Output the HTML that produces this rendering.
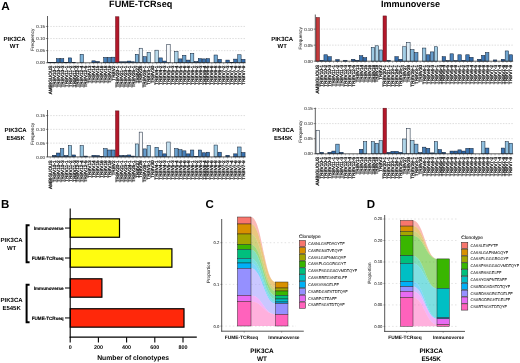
<!DOCTYPE html>
<html><head><meta charset="utf-8"><title>Figure</title>
<style>html,body{margin:0;padding:0;background:#fff;}svg{display:block;filter:blur(0.3px);}</style></head>
<body>
<svg width="520" height="363" viewBox="0 0 520 363" text-rendering="geometricPrecision">
<rect width="520" height="363" fill="#fff"/>
<g font-family="'Liberation Sans', Arial, sans-serif">
<text x="1.2" y="10.1" font-size="11.8" font-weight="bold">A</text>
<text x="140.7" y="7.4" font-size="9.1" font-weight="bold" text-anchor="middle">FUME-TCRseq</text>
<text x="410.5" y="7.4" font-size="9.1" font-weight="bold" text-anchor="middle">Immunoverse</text>
<text x="14.5" y="41.0" font-size="6" font-weight="bold" text-anchor="middle">PIK3CA</text>
<text x="14.5" y="48.0" font-size="6" font-weight="bold" text-anchor="middle">WT</text>
<text x="15.6" y="131.8" font-size="6" font-weight="bold" text-anchor="middle">PIK3CA</text>
<text x="15.6" y="139.7" font-size="6" font-weight="bold" text-anchor="middle">E545K</text>
<text x="282.2" y="40.6" font-size="6" font-weight="bold" text-anchor="middle">PIK3CA</text>
<text x="282.2" y="47.7" font-size="6" font-weight="bold" text-anchor="middle">WT</text>
<text x="283.2" y="132.0" font-size="6" font-weight="bold" text-anchor="middle">PIK3CA</text>
<text x="283.2" y="139.7" font-size="6" font-weight="bold" text-anchor="middle">E545K</text>
<line x1="45.9" y1="62.75" x2="47.5" y2="62.75" stroke="#111" stroke-width="0.5"/>
<text x="44.9" y="64.35" font-size="4.4" text-anchor="end" fill="#262626" stroke="#262626" stroke-width="0.04">0.00</text>
<line x1="47.5" y1="50.65" x2="245.5" y2="50.65" stroke="#bdbdbd" stroke-width="0.5" stroke-dasharray="1.5 1.3"/>
<line x1="45.9" y1="50.65" x2="47.5" y2="50.65" stroke="#111" stroke-width="0.5"/>
<text x="44.9" y="52.25" font-size="4.4" text-anchor="end" fill="#262626" stroke="#262626" stroke-width="0.04">0.05</text>
<line x1="47.5" y1="38.55" x2="245.5" y2="38.55" stroke="#bdbdbd" stroke-width="0.5" stroke-dasharray="1.5 1.3"/>
<line x1="45.9" y1="38.55" x2="47.5" y2="38.55" stroke="#111" stroke-width="0.5"/>
<text x="44.9" y="40.15" font-size="4.4" text-anchor="end" fill="#262626" stroke="#262626" stroke-width="0.04">0.10</text>
<line x1="47.5" y1="26.45" x2="245.5" y2="26.45" stroke="#bdbdbd" stroke-width="0.5" stroke-dasharray="1.5 1.3"/>
<line x1="45.9" y1="26.45" x2="47.5" y2="26.45" stroke="#111" stroke-width="0.5"/>
<text x="44.9" y="28.05" font-size="4.4" text-anchor="end" fill="#262626" stroke="#262626" stroke-width="0.04">0.15</text>
<rect x="48.55" y="62.51" width="3.44" height="0.24" fill="#21579b" stroke="#0c1c30" stroke-width="0.5"/>
<rect x="52.49" y="62.27" width="3.44" height="0.48" fill="#22599d" stroke="#0c1c30" stroke-width="0.5"/>
<rect x="56.43" y="58.64" width="3.44" height="4.11" fill="#3a74b2" stroke="#0c1c30" stroke-width="0.5"/>
<rect x="60.37" y="58.64" width="3.44" height="4.11" fill="#3a74b2" stroke="#0c1c30" stroke-width="0.5"/>
<rect x="64.31" y="62.27" width="3.44" height="0.48" fill="#22599d" stroke="#0c1c30" stroke-width="0.5"/>
<rect x="68.25" y="57.91" width="3.44" height="4.84" fill="#3f79b6" stroke="#0c1c30" stroke-width="0.5"/>
<rect x="72.19" y="62.27" width="3.44" height="0.48" fill="#22599d" stroke="#0c1c30" stroke-width="0.5"/>
<rect x="80.07" y="54.28" width="3.44" height="8.47" fill="#7db2d8" stroke="#0c1c30" stroke-width="0.5"/>
<rect x="91.89" y="60.81" width="3.44" height="1.94" fill="#2c63a5" stroke="#0c1c30" stroke-width="0.5"/>
<rect x="95.83" y="61.54" width="3.44" height="1.21" fill="#275ea1" stroke="#0c1c30" stroke-width="0.5"/>
<rect x="103.71" y="57.43" width="3.44" height="5.32" fill="#4881ba" stroke="#0c1c30" stroke-width="0.5"/>
<rect x="107.65" y="57.43" width="3.44" height="5.32" fill="#4881ba" stroke="#0c1c30" stroke-width="0.5"/>
<rect x="111.59" y="57.18" width="3.44" height="5.57" fill="#4c84bc" stroke="#0c1c30" stroke-width="0.5"/>
<rect x="115.53" y="16.77" width="3.44" height="45.98" fill="#b2182b" stroke="#5a0c15" stroke-width="0.5"/>
<rect x="119.47" y="61.78" width="3.44" height="0.97" fill="#255ca0" stroke="#0c1c30" stroke-width="0.5"/>
<rect x="123.41" y="61.78" width="3.44" height="0.97" fill="#255ca0" stroke="#0c1c30" stroke-width="0.5"/>
<rect x="127.35" y="61.06" width="3.44" height="1.69" fill="#2a62a4" stroke="#0c1c30" stroke-width="0.5"/>
<rect x="131.29" y="61.78" width="3.44" height="0.97" fill="#255ca0" stroke="#0c1c30" stroke-width="0.5"/>
<rect x="135.23" y="54.28" width="3.44" height="8.47" fill="#7db2d8" stroke="#0c1c30" stroke-width="0.5"/>
<rect x="139.17" y="48.23" width="3.44" height="14.52" fill="#e0eef7" stroke="#0c1c30" stroke-width="0.5"/>
<rect x="143.11" y="56.70" width="3.44" height="6.05" fill="#558cc0" stroke="#0c1c30" stroke-width="0.5"/>
<rect x="147.05" y="52.34" width="3.44" height="10.41" fill="#9dcae3" stroke="#0c1c30" stroke-width="0.5"/>
<rect x="154.93" y="50.17" width="3.44" height="12.58" fill="#b9daeb" stroke="#0c1c30" stroke-width="0.5"/>
<rect x="158.87" y="57.91" width="3.44" height="4.84" fill="#3f79b6" stroke="#0c1c30" stroke-width="0.5"/>
<rect x="162.81" y="61.06" width="3.44" height="1.69" fill="#2a62a4" stroke="#0c1c30" stroke-width="0.5"/>
<rect x="166.75" y="44.60" width="3.44" height="18.15" fill="#f6f8fa" stroke="#0c1c30" stroke-width="0.5"/>
<rect x="174.63" y="51.38" width="3.44" height="11.37" fill="#a9d1e7" stroke="#0c1c30" stroke-width="0.5"/>
<rect x="178.57" y="58.88" width="3.44" height="3.87" fill="#3972b0" stroke="#0c1c30" stroke-width="0.5"/>
<rect x="182.51" y="55.25" width="3.44" height="7.50" fill="#6da3ce" stroke="#0c1c30" stroke-width="0.5"/>
<rect x="186.45" y="60.09" width="3.44" height="2.66" fill="#3169a9" stroke="#0c1c30" stroke-width="0.5"/>
<rect x="190.39" y="53.31" width="3.44" height="9.44" fill="#8dbede" stroke="#0c1c30" stroke-width="0.5"/>
<rect x="194.33" y="61.54" width="3.44" height="1.21" fill="#275ea1" stroke="#0c1c30" stroke-width="0.5"/>
<rect x="198.27" y="58.64" width="3.44" height="4.11" fill="#3a74b2" stroke="#0c1c30" stroke-width="0.5"/>
<rect x="202.21" y="58.88" width="3.44" height="3.87" fill="#3972b0" stroke="#0c1c30" stroke-width="0.5"/>
<rect x="206.15" y="58.64" width="3.44" height="4.11" fill="#3a74b2" stroke="#0c1c30" stroke-width="0.5"/>
<rect x="214.03" y="55.01" width="3.44" height="7.74" fill="#71a7d1" stroke="#0c1c30" stroke-width="0.5"/>
<rect x="217.97" y="59.36" width="3.44" height="3.39" fill="#356eae" stroke="#0c1c30" stroke-width="0.5"/>
<rect x="225.85" y="60.09" width="3.44" height="2.66" fill="#3169a9" stroke="#0c1c30" stroke-width="0.5"/>
<rect x="229.79" y="62.51" width="3.44" height="0.24" fill="#21579b" stroke="#0c1c30" stroke-width="0.5"/>
<rect x="233.73" y="59.12" width="3.44" height="3.63" fill="#3770af" stroke="#0c1c30" stroke-width="0.5"/>
<rect x="237.67" y="54.76" width="3.44" height="7.99" fill="#75aad3" stroke="#0c1c30" stroke-width="0.5"/>
<rect x="241.61" y="59.36" width="3.44" height="3.39" fill="#356eae" stroke="#0c1c30" stroke-width="0.5"/>
<line x1="47.5" y1="16" x2="47.5" y2="63.05" stroke="#2a2a2a" stroke-width="0.75"/>
<line x1="47.5" y1="62.75" x2="245.5" y2="62.75" stroke="#2a2a2a" stroke-width="0.75"/>
<line x1="50.27" y1="62.75" x2="50.27" y2="64.35" stroke="#444" stroke-width="0.4"/>
<text transform="translate(51.87,65.6) rotate(-90)" font-size="4.7" text-anchor="end" fill="#222" stroke="#222" stroke-width="0.3">AMBIGUOUS</text>
<line x1="54.21" y1="62.75" x2="54.21" y2="64.35" stroke="#444" stroke-width="0.4"/>
<text transform="translate(55.81,65.6) rotate(-90)" font-size="4.7" text-anchor="end" fill="#222" stroke="#222" stroke-width="0.3">TRBV10-1</text>
<line x1="58.15" y1="62.75" x2="58.15" y2="64.35" stroke="#444" stroke-width="0.4"/>
<text transform="translate(59.75,65.6) rotate(-90)" font-size="4.7" text-anchor="end" fill="#222" stroke="#222" stroke-width="0.3">TRBV10-2</text>
<line x1="62.09" y1="62.75" x2="62.09" y2="64.35" stroke="#444" stroke-width="0.4"/>
<text transform="translate(63.69,65.6) rotate(-90)" font-size="4.7" text-anchor="end" fill="#222" stroke="#222" stroke-width="0.3">TRBV10-3</text>
<line x1="66.03" y1="62.75" x2="66.03" y2="64.35" stroke="#444" stroke-width="0.4"/>
<text transform="translate(67.63,65.6) rotate(-90)" font-size="4.7" text-anchor="end" fill="#222" stroke="#222" stroke-width="0.3">TRBV11-1</text>
<line x1="69.97" y1="62.75" x2="69.97" y2="64.35" stroke="#444" stroke-width="0.4"/>
<text transform="translate(71.57,65.6) rotate(-90)" font-size="4.7" text-anchor="end" fill="#222" stroke="#222" stroke-width="0.3">TRBV11-2</text>
<line x1="73.91" y1="62.75" x2="73.91" y2="64.35" stroke="#444" stroke-width="0.4"/>
<text transform="translate(75.51,65.6) rotate(-90)" font-size="4.7" text-anchor="end" fill="#222" stroke="#222" stroke-width="0.3">TRBV11-3</text>
<line x1="77.85" y1="62.75" x2="77.85" y2="64.35" stroke="#444" stroke-width="0.4"/>
<text transform="translate(79.45,65.6) rotate(-90)" font-size="4.7" text-anchor="end" fill="#222" stroke="#222" stroke-width="0.3">TRBV12-3</text>
<line x1="81.79" y1="62.75" x2="81.79" y2="64.35" stroke="#444" stroke-width="0.4"/>
<text transform="translate(83.39,65.6) rotate(-90)" font-size="4.7" text-anchor="end" fill="#222" stroke="#222" stroke-width="0.3">TRBV12-4</text>
<line x1="85.73" y1="62.75" x2="85.73" y2="64.35" stroke="#444" stroke-width="0.4"/>
<text transform="translate(87.33,65.6) rotate(-90)" font-size="4.7" text-anchor="end" fill="#222" stroke="#222" stroke-width="0.3">TRBV12-5</text>
<line x1="89.67" y1="62.75" x2="89.67" y2="64.35" stroke="#444" stroke-width="0.4"/>
<text transform="translate(91.27,65.6) rotate(-90)" font-size="4.7" text-anchor="end" fill="#222" stroke="#222" stroke-width="0.3">TRBV13</text>
<line x1="93.61" y1="62.75" x2="93.61" y2="64.35" stroke="#444" stroke-width="0.4"/>
<text transform="translate(95.21,65.6) rotate(-90)" font-size="4.7" text-anchor="end" fill="#222" stroke="#222" stroke-width="0.3">TRBV14</text>
<line x1="97.55" y1="62.75" x2="97.55" y2="64.35" stroke="#444" stroke-width="0.4"/>
<text transform="translate(99.15,65.6) rotate(-90)" font-size="4.7" text-anchor="end" fill="#222" stroke="#222" stroke-width="0.3">TRBV15</text>
<line x1="101.49" y1="62.75" x2="101.49" y2="64.35" stroke="#444" stroke-width="0.4"/>
<text transform="translate(103.09,65.6) rotate(-90)" font-size="4.7" text-anchor="end" fill="#222" stroke="#222" stroke-width="0.3">TRBV16</text>
<line x1="105.43" y1="62.75" x2="105.43" y2="64.35" stroke="#444" stroke-width="0.4"/>
<text transform="translate(107.03,65.6) rotate(-90)" font-size="4.7" text-anchor="end" fill="#222" stroke="#222" stroke-width="0.3">TRBV18</text>
<line x1="109.37" y1="62.75" x2="109.37" y2="64.35" stroke="#444" stroke-width="0.4"/>
<text transform="translate(110.97,65.6) rotate(-90)" font-size="4.7" text-anchor="end" fill="#222" stroke="#222" stroke-width="0.3">TRBV19</text>
<line x1="113.31" y1="62.75" x2="113.31" y2="64.35" stroke="#444" stroke-width="0.4"/>
<text transform="translate(114.91,65.6) rotate(-90)" font-size="4.7" text-anchor="end" fill="#222" stroke="#222" stroke-width="0.3">TRBV2</text>
<line x1="117.25" y1="62.75" x2="117.25" y2="64.35" stroke="#444" stroke-width="0.4"/>
<text transform="translate(118.85,65.6) rotate(-90)" font-size="4.7" text-anchor="end" fill="#222" stroke="#222" stroke-width="0.3">TRBV20-1</text>
<line x1="121.19" y1="62.75" x2="121.19" y2="64.35" stroke="#444" stroke-width="0.4"/>
<text transform="translate(122.79,65.6) rotate(-90)" font-size="4.7" text-anchor="end" fill="#222" stroke="#222" stroke-width="0.3">TRBV21-1</text>
<line x1="125.13" y1="62.75" x2="125.13" y2="64.35" stroke="#444" stroke-width="0.4"/>
<text transform="translate(126.73,65.6) rotate(-90)" font-size="4.7" text-anchor="end" fill="#222" stroke="#222" stroke-width="0.3">TRBV23-1</text>
<line x1="129.07" y1="62.75" x2="129.07" y2="64.35" stroke="#444" stroke-width="0.4"/>
<text transform="translate(130.67,65.6) rotate(-90)" font-size="4.7" text-anchor="end" fill="#222" stroke="#222" stroke-width="0.3">TRBV24-1</text>
<line x1="133.01" y1="62.75" x2="133.01" y2="64.35" stroke="#444" stroke-width="0.4"/>
<text transform="translate(134.61,65.6) rotate(-90)" font-size="4.7" text-anchor="end" fill="#222" stroke="#222" stroke-width="0.3">TRBV25-1</text>
<line x1="136.95" y1="62.75" x2="136.95" y2="64.35" stroke="#444" stroke-width="0.4"/>
<text transform="translate(138.55,65.6) rotate(-90)" font-size="4.7" text-anchor="end" fill="#222" stroke="#222" stroke-width="0.3">TRBV27</text>
<line x1="140.89" y1="62.75" x2="140.89" y2="64.35" stroke="#444" stroke-width="0.4"/>
<text transform="translate(142.49,65.6) rotate(-90)" font-size="4.7" text-anchor="end" fill="#222" stroke="#222" stroke-width="0.3">TRBV28</text>
<line x1="144.83" y1="62.75" x2="144.83" y2="64.35" stroke="#444" stroke-width="0.4"/>
<text transform="translate(146.43,65.6) rotate(-90)" font-size="4.7" text-anchor="end" fill="#222" stroke="#222" stroke-width="0.3">TRBV29-1</text>
<line x1="148.77" y1="62.75" x2="148.77" y2="64.35" stroke="#444" stroke-width="0.4"/>
<text transform="translate(150.37,65.6) rotate(-90)" font-size="4.7" text-anchor="end" fill="#222" stroke="#222" stroke-width="0.3">TRBV3-1</text>
<line x1="152.71" y1="62.75" x2="152.71" y2="64.35" stroke="#444" stroke-width="0.4"/>
<text transform="translate(154.31,65.6) rotate(-90)" font-size="4.7" text-anchor="end" fill="#222" stroke="#222" stroke-width="0.3">TRBV30</text>
<line x1="156.65" y1="62.75" x2="156.65" y2="64.35" stroke="#444" stroke-width="0.4"/>
<text transform="translate(158.25,65.6) rotate(-90)" font-size="4.7" text-anchor="end" fill="#222" stroke="#222" stroke-width="0.3">TRBV4-1</text>
<line x1="160.59" y1="62.75" x2="160.59" y2="64.35" stroke="#444" stroke-width="0.4"/>
<text transform="translate(162.19,65.6) rotate(-90)" font-size="4.7" text-anchor="end" fill="#222" stroke="#222" stroke-width="0.3">TRBV4-2</text>
<line x1="164.53" y1="62.75" x2="164.53" y2="64.35" stroke="#444" stroke-width="0.4"/>
<text transform="translate(166.13,65.6) rotate(-90)" font-size="4.7" text-anchor="end" fill="#222" stroke="#222" stroke-width="0.3">TRBV4-3</text>
<line x1="168.47" y1="62.75" x2="168.47" y2="64.35" stroke="#444" stroke-width="0.4"/>
<text transform="translate(170.07,65.6) rotate(-90)" font-size="4.7" text-anchor="end" fill="#222" stroke="#222" stroke-width="0.3">TRBV5-1</text>
<line x1="172.41" y1="62.75" x2="172.41" y2="64.35" stroke="#444" stroke-width="0.4"/>
<text transform="translate(174.01,65.6) rotate(-90)" font-size="4.7" text-anchor="end" fill="#222" stroke="#222" stroke-width="0.3">TRBV5-3</text>
<line x1="176.35" y1="62.75" x2="176.35" y2="64.35" stroke="#444" stroke-width="0.4"/>
<text transform="translate(177.95,65.6) rotate(-90)" font-size="4.7" text-anchor="end" fill="#222" stroke="#222" stroke-width="0.3">TRBV5-4</text>
<line x1="180.29" y1="62.75" x2="180.29" y2="64.35" stroke="#444" stroke-width="0.4"/>
<text transform="translate(181.89,65.6) rotate(-90)" font-size="4.7" text-anchor="end" fill="#222" stroke="#222" stroke-width="0.3">TRBV5-5</text>
<line x1="184.23" y1="62.75" x2="184.23" y2="64.35" stroke="#444" stroke-width="0.4"/>
<text transform="translate(185.83,65.6) rotate(-90)" font-size="4.7" text-anchor="end" fill="#222" stroke="#222" stroke-width="0.3">TRBV5-6</text>
<line x1="188.17" y1="62.75" x2="188.17" y2="64.35" stroke="#444" stroke-width="0.4"/>
<text transform="translate(189.77,65.6) rotate(-90)" font-size="4.7" text-anchor="end" fill="#222" stroke="#222" stroke-width="0.3">TRBV5-8</text>
<line x1="192.11" y1="62.75" x2="192.11" y2="64.35" stroke="#444" stroke-width="0.4"/>
<text transform="translate(193.71,65.6) rotate(-90)" font-size="4.7" text-anchor="end" fill="#222" stroke="#222" stroke-width="0.3">TRBV6-1</text>
<line x1="196.05" y1="62.75" x2="196.05" y2="64.35" stroke="#444" stroke-width="0.4"/>
<text transform="translate(197.65,65.6) rotate(-90)" font-size="4.7" text-anchor="end" fill="#222" stroke="#222" stroke-width="0.3">TRBV6-2</text>
<line x1="199.99" y1="62.75" x2="199.99" y2="64.35" stroke="#444" stroke-width="0.4"/>
<text transform="translate(201.59,65.6) rotate(-90)" font-size="4.7" text-anchor="end" fill="#222" stroke="#222" stroke-width="0.3">TRBV6-3</text>
<line x1="203.93" y1="62.75" x2="203.93" y2="64.35" stroke="#444" stroke-width="0.4"/>
<text transform="translate(205.53,65.6) rotate(-90)" font-size="4.7" text-anchor="end" fill="#222" stroke="#222" stroke-width="0.3">TRBV6-4</text>
<line x1="207.87" y1="62.75" x2="207.87" y2="64.35" stroke="#444" stroke-width="0.4"/>
<text transform="translate(209.47,65.6) rotate(-90)" font-size="4.7" text-anchor="end" fill="#222" stroke="#222" stroke-width="0.3">TRBV6-5</text>
<line x1="211.81" y1="62.75" x2="211.81" y2="64.35" stroke="#444" stroke-width="0.4"/>
<text transform="translate(213.41,65.6) rotate(-90)" font-size="4.7" text-anchor="end" fill="#222" stroke="#222" stroke-width="0.3">TRBV6-6</text>
<line x1="215.75" y1="62.75" x2="215.75" y2="64.35" stroke="#444" stroke-width="0.4"/>
<text transform="translate(217.35,65.6) rotate(-90)" font-size="4.7" text-anchor="end" fill="#222" stroke="#222" stroke-width="0.3">TRBV6-8</text>
<line x1="219.69" y1="62.75" x2="219.69" y2="64.35" stroke="#444" stroke-width="0.4"/>
<text transform="translate(221.29,65.6) rotate(-90)" font-size="4.7" text-anchor="end" fill="#222" stroke="#222" stroke-width="0.3">TRBV6-9</text>
<line x1="223.63" y1="62.75" x2="223.63" y2="64.35" stroke="#444" stroke-width="0.4"/>
<text transform="translate(225.23,65.6) rotate(-90)" font-size="4.7" text-anchor="end" fill="#222" stroke="#222" stroke-width="0.3">TRBV7-2</text>
<line x1="227.57" y1="62.75" x2="227.57" y2="64.35" stroke="#444" stroke-width="0.4"/>
<text transform="translate(229.17,65.6) rotate(-90)" font-size="4.7" text-anchor="end" fill="#222" stroke="#222" stroke-width="0.3">TRBV7-3</text>
<line x1="231.51" y1="62.75" x2="231.51" y2="64.35" stroke="#444" stroke-width="0.4"/>
<text transform="translate(233.11,65.6) rotate(-90)" font-size="4.7" text-anchor="end" fill="#222" stroke="#222" stroke-width="0.3">TRBV7-4</text>
<line x1="235.45" y1="62.75" x2="235.45" y2="64.35" stroke="#444" stroke-width="0.4"/>
<text transform="translate(237.05,65.6) rotate(-90)" font-size="4.7" text-anchor="end" fill="#222" stroke="#222" stroke-width="0.3">TRBV7-6</text>
<line x1="239.39" y1="62.75" x2="239.39" y2="64.35" stroke="#444" stroke-width="0.4"/>
<text transform="translate(240.99,65.6) rotate(-90)" font-size="4.7" text-anchor="end" fill="#222" stroke="#222" stroke-width="0.3">TRBV7-8</text>
<line x1="243.33" y1="62.75" x2="243.33" y2="64.35" stroke="#444" stroke-width="0.4"/>
<text transform="translate(244.93,65.6) rotate(-90)" font-size="4.7" text-anchor="end" fill="#222" stroke="#222" stroke-width="0.3">TRBV7-9</text>
<text transform="translate(33.9,39.8) rotate(-90)" font-size="4.7" text-anchor="middle" fill="#262626" stroke="#262626" stroke-width="0.04">Frequency</text>
<line x1="45.9" y1="156.90" x2="47.5" y2="156.90" stroke="#111" stroke-width="0.5"/>
<text x="44.9" y="158.50" font-size="4.4" text-anchor="end" fill="#262626" stroke="#262626" stroke-width="0.04">0.00</text>
<line x1="47.5" y1="143.12" x2="245.5" y2="143.12" stroke="#bdbdbd" stroke-width="0.5" stroke-dasharray="1.5 1.3"/>
<line x1="45.9" y1="143.12" x2="47.5" y2="143.12" stroke="#111" stroke-width="0.5"/>
<text x="44.9" y="144.72" font-size="4.4" text-anchor="end" fill="#262626" stroke="#262626" stroke-width="0.04">0.05</text>
<line x1="47.5" y1="129.35" x2="245.5" y2="129.35" stroke="#bdbdbd" stroke-width="0.5" stroke-dasharray="1.5 1.3"/>
<line x1="45.9" y1="129.35" x2="47.5" y2="129.35" stroke="#111" stroke-width="0.5"/>
<text x="44.9" y="130.95" font-size="4.4" text-anchor="end" fill="#262626" stroke="#262626" stroke-width="0.04">0.10</text>
<line x1="47.5" y1="115.58" x2="245.5" y2="115.58" stroke="#bdbdbd" stroke-width="0.5" stroke-dasharray="1.5 1.3"/>
<line x1="45.9" y1="115.58" x2="47.5" y2="115.58" stroke="#111" stroke-width="0.5"/>
<text x="44.9" y="117.18" font-size="4.4" text-anchor="end" fill="#262626" stroke="#262626" stroke-width="0.04">0.15</text>
<rect x="52.49" y="155.25" width="3.44" height="1.65" fill="#2960a2" stroke="#0c1c30" stroke-width="0.5"/>
<rect x="56.43" y="153.04" width="3.44" height="3.86" fill="#356eae" stroke="#0c1c30" stroke-width="0.5"/>
<rect x="60.37" y="148.63" width="3.44" height="8.27" fill="#699fcc" stroke="#0c1c30" stroke-width="0.5"/>
<rect x="64.31" y="155.52" width="3.44" height="1.38" fill="#275ea1" stroke="#0c1c30" stroke-width="0.5"/>
<rect x="68.25" y="145.60" width="3.44" height="11.30" fill="#95c4e0" stroke="#0c1c30" stroke-width="0.5"/>
<rect x="72.19" y="154.97" width="3.44" height="1.93" fill="#2a62a4" stroke="#0c1c30" stroke-width="0.5"/>
<rect x="80.07" y="145.60" width="3.44" height="11.30" fill="#95c4e0" stroke="#0c1c30" stroke-width="0.5"/>
<rect x="84.01" y="156.07" width="3.44" height="0.83" fill="#245a9e" stroke="#0c1c30" stroke-width="0.5"/>
<rect x="91.89" y="155.25" width="3.44" height="1.65" fill="#2960a2" stroke="#0c1c30" stroke-width="0.5"/>
<rect x="95.83" y="155.52" width="3.44" height="1.38" fill="#275ea1" stroke="#0c1c30" stroke-width="0.5"/>
<rect x="99.77" y="156.35" width="3.44" height="0.55" fill="#22599d" stroke="#0c1c30" stroke-width="0.5"/>
<rect x="103.71" y="148.63" width="3.44" height="8.27" fill="#699fcc" stroke="#0c1c30" stroke-width="0.5"/>
<rect x="107.65" y="150.01" width="3.44" height="6.89" fill="#558cc0" stroke="#0c1c30" stroke-width="0.5"/>
<rect x="111.59" y="150.01" width="3.44" height="6.89" fill="#558cc0" stroke="#0c1c30" stroke-width="0.5"/>
<rect x="115.53" y="110.89" width="3.44" height="46.01" fill="#b2182b" stroke="#5a0c15" stroke-width="0.5"/>
<rect x="119.47" y="155.52" width="3.44" height="1.38" fill="#275ea1" stroke="#0c1c30" stroke-width="0.5"/>
<rect x="123.41" y="155.52" width="3.44" height="1.38" fill="#275ea1" stroke="#0c1c30" stroke-width="0.5"/>
<rect x="127.35" y="154.97" width="3.44" height="1.93" fill="#2a62a4" stroke="#0c1c30" stroke-width="0.5"/>
<rect x="131.29" y="156.07" width="3.44" height="0.83" fill="#245a9e" stroke="#0c1c30" stroke-width="0.5"/>
<rect x="135.23" y="143.95" width="3.44" height="12.95" fill="#a9d1e7" stroke="#0c1c30" stroke-width="0.5"/>
<rect x="139.17" y="132.11" width="3.44" height="24.79" fill="#f7f8f9" stroke="#0c1c30" stroke-width="0.5"/>
<rect x="143.11" y="148.91" width="3.44" height="7.99" fill="#659bca" stroke="#0c1c30" stroke-width="0.5"/>
<rect x="147.05" y="145.60" width="3.44" height="11.30" fill="#95c4e0" stroke="#0c1c30" stroke-width="0.5"/>
<rect x="154.93" y="147.26" width="3.44" height="9.64" fill="#7db2d8" stroke="#0c1c30" stroke-width="0.5"/>
<rect x="158.87" y="150.29" width="3.44" height="6.61" fill="#5188be" stroke="#0c1c30" stroke-width="0.5"/>
<rect x="162.81" y="153.87" width="3.44" height="3.03" fill="#3169a9" stroke="#0c1c30" stroke-width="0.5"/>
<rect x="166.75" y="142.02" width="3.44" height="14.88" fill="#c3dfee" stroke="#0c1c30" stroke-width="0.5"/>
<rect x="174.63" y="148.63" width="3.44" height="8.27" fill="#699fcc" stroke="#0c1c30" stroke-width="0.5"/>
<rect x="178.57" y="149.74" width="3.44" height="7.16" fill="#5990c2" stroke="#0c1c30" stroke-width="0.5"/>
<rect x="182.51" y="150.84" width="3.44" height="6.06" fill="#4881ba" stroke="#0c1c30" stroke-width="0.5"/>
<rect x="186.45" y="153.87" width="3.44" height="3.03" fill="#3169a9" stroke="#0c1c30" stroke-width="0.5"/>
<rect x="190.39" y="150.01" width="3.44" height="6.89" fill="#558cc0" stroke="#0c1c30" stroke-width="0.5"/>
<rect x="194.33" y="156.35" width="3.44" height="0.55" fill="#22599d" stroke="#0c1c30" stroke-width="0.5"/>
<rect x="198.27" y="150.01" width="3.44" height="6.89" fill="#558cc0" stroke="#0c1c30" stroke-width="0.5"/>
<rect x="202.21" y="152.77" width="3.44" height="4.13" fill="#3770af" stroke="#0c1c30" stroke-width="0.5"/>
<rect x="206.15" y="152.22" width="3.44" height="4.68" fill="#3a74b2" stroke="#0c1c30" stroke-width="0.5"/>
<rect x="214.03" y="145.05" width="3.44" height="11.85" fill="#9dcae3" stroke="#0c1c30" stroke-width="0.5"/>
<rect x="217.97" y="152.22" width="3.44" height="4.68" fill="#3a74b2" stroke="#0c1c30" stroke-width="0.5"/>
<rect x="225.85" y="155.25" width="3.44" height="1.65" fill="#2960a2" stroke="#0c1c30" stroke-width="0.5"/>
<rect x="233.73" y="153.87" width="3.44" height="3.03" fill="#3169a9" stroke="#0c1c30" stroke-width="0.5"/>
<rect x="237.67" y="146.98" width="3.44" height="9.92" fill="#81b5d9" stroke="#0c1c30" stroke-width="0.5"/>
<rect x="241.61" y="152.49" width="3.44" height="4.41" fill="#3972b0" stroke="#0c1c30" stroke-width="0.5"/>
<line x1="47.5" y1="110" x2="47.5" y2="157.20000000000002" stroke="#2a2a2a" stroke-width="0.75"/>
<line x1="47.5" y1="156.9" x2="245.5" y2="156.9" stroke="#2a2a2a" stroke-width="0.75"/>
<line x1="50.27" y1="156.9" x2="50.27" y2="158.5" stroke="#444" stroke-width="0.4"/>
<text transform="translate(51.87,160.4) rotate(-90)" font-size="4.7" text-anchor="end" fill="#222" stroke="#222" stroke-width="0.3">AMBIGUOUS</text>
<line x1="54.21" y1="156.9" x2="54.21" y2="158.5" stroke="#444" stroke-width="0.4"/>
<text transform="translate(55.81,160.4) rotate(-90)" font-size="4.7" text-anchor="end" fill="#222" stroke="#222" stroke-width="0.3">TRBV10-1</text>
<line x1="58.15" y1="156.9" x2="58.15" y2="158.5" stroke="#444" stroke-width="0.4"/>
<text transform="translate(59.75,160.4) rotate(-90)" font-size="4.7" text-anchor="end" fill="#222" stroke="#222" stroke-width="0.3">TRBV10-2</text>
<line x1="62.09" y1="156.9" x2="62.09" y2="158.5" stroke="#444" stroke-width="0.4"/>
<text transform="translate(63.69,160.4) rotate(-90)" font-size="4.7" text-anchor="end" fill="#222" stroke="#222" stroke-width="0.3">TRBV10-3</text>
<line x1="66.03" y1="156.9" x2="66.03" y2="158.5" stroke="#444" stroke-width="0.4"/>
<text transform="translate(67.63,160.4) rotate(-90)" font-size="4.7" text-anchor="end" fill="#222" stroke="#222" stroke-width="0.3">TRBV11-1</text>
<line x1="69.97" y1="156.9" x2="69.97" y2="158.5" stroke="#444" stroke-width="0.4"/>
<text transform="translate(71.57,160.4) rotate(-90)" font-size="4.7" text-anchor="end" fill="#222" stroke="#222" stroke-width="0.3">TRBV11-2</text>
<line x1="73.91" y1="156.9" x2="73.91" y2="158.5" stroke="#444" stroke-width="0.4"/>
<text transform="translate(75.51,160.4) rotate(-90)" font-size="4.7" text-anchor="end" fill="#222" stroke="#222" stroke-width="0.3">TRBV11-3</text>
<line x1="77.85" y1="156.9" x2="77.85" y2="158.5" stroke="#444" stroke-width="0.4"/>
<text transform="translate(79.45,160.4) rotate(-90)" font-size="4.7" text-anchor="end" fill="#222" stroke="#222" stroke-width="0.3">TRBV12-3</text>
<line x1="81.79" y1="156.9" x2="81.79" y2="158.5" stroke="#444" stroke-width="0.4"/>
<text transform="translate(83.39,160.4) rotate(-90)" font-size="4.7" text-anchor="end" fill="#222" stroke="#222" stroke-width="0.3">TRBV12-4</text>
<line x1="85.73" y1="156.9" x2="85.73" y2="158.5" stroke="#444" stroke-width="0.4"/>
<text transform="translate(87.33,160.4) rotate(-90)" font-size="4.7" text-anchor="end" fill="#222" stroke="#222" stroke-width="0.3">TRBV12-5</text>
<line x1="89.67" y1="156.9" x2="89.67" y2="158.5" stroke="#444" stroke-width="0.4"/>
<text transform="translate(91.27,160.4) rotate(-90)" font-size="4.7" text-anchor="end" fill="#222" stroke="#222" stroke-width="0.3">TRBV13</text>
<line x1="93.61" y1="156.9" x2="93.61" y2="158.5" stroke="#444" stroke-width="0.4"/>
<text transform="translate(95.21,160.4) rotate(-90)" font-size="4.7" text-anchor="end" fill="#222" stroke="#222" stroke-width="0.3">TRBV14</text>
<line x1="97.55" y1="156.9" x2="97.55" y2="158.5" stroke="#444" stroke-width="0.4"/>
<text transform="translate(99.15,160.4) rotate(-90)" font-size="4.7" text-anchor="end" fill="#222" stroke="#222" stroke-width="0.3">TRBV15</text>
<line x1="101.49" y1="156.9" x2="101.49" y2="158.5" stroke="#444" stroke-width="0.4"/>
<text transform="translate(103.09,160.4) rotate(-90)" font-size="4.7" text-anchor="end" fill="#222" stroke="#222" stroke-width="0.3">TRBV16</text>
<line x1="105.43" y1="156.9" x2="105.43" y2="158.5" stroke="#444" stroke-width="0.4"/>
<text transform="translate(107.03,160.4) rotate(-90)" font-size="4.7" text-anchor="end" fill="#222" stroke="#222" stroke-width="0.3">TRBV18</text>
<line x1="109.37" y1="156.9" x2="109.37" y2="158.5" stroke="#444" stroke-width="0.4"/>
<text transform="translate(110.97,160.4) rotate(-90)" font-size="4.7" text-anchor="end" fill="#222" stroke="#222" stroke-width="0.3">TRBV19</text>
<line x1="113.31" y1="156.9" x2="113.31" y2="158.5" stroke="#444" stroke-width="0.4"/>
<text transform="translate(114.91,160.4) rotate(-90)" font-size="4.7" text-anchor="end" fill="#222" stroke="#222" stroke-width="0.3">TRBV2</text>
<line x1="117.25" y1="156.9" x2="117.25" y2="158.5" stroke="#444" stroke-width="0.4"/>
<text transform="translate(118.85,160.4) rotate(-90)" font-size="4.7" text-anchor="end" fill="#222" stroke="#222" stroke-width="0.3">TRBV20-1</text>
<line x1="121.19" y1="156.9" x2="121.19" y2="158.5" stroke="#444" stroke-width="0.4"/>
<text transform="translate(122.79,160.4) rotate(-90)" font-size="4.7" text-anchor="end" fill="#222" stroke="#222" stroke-width="0.3">TRBV21-1</text>
<line x1="125.13" y1="156.9" x2="125.13" y2="158.5" stroke="#444" stroke-width="0.4"/>
<text transform="translate(126.73,160.4) rotate(-90)" font-size="4.7" text-anchor="end" fill="#222" stroke="#222" stroke-width="0.3">TRBV23-1</text>
<line x1="129.07" y1="156.9" x2="129.07" y2="158.5" stroke="#444" stroke-width="0.4"/>
<text transform="translate(130.67,160.4) rotate(-90)" font-size="4.7" text-anchor="end" fill="#222" stroke="#222" stroke-width="0.3">TRBV24-1</text>
<line x1="133.01" y1="156.9" x2="133.01" y2="158.5" stroke="#444" stroke-width="0.4"/>
<text transform="translate(134.61,160.4) rotate(-90)" font-size="4.7" text-anchor="end" fill="#222" stroke="#222" stroke-width="0.3">TRBV25-1</text>
<line x1="136.95" y1="156.9" x2="136.95" y2="158.5" stroke="#444" stroke-width="0.4"/>
<text transform="translate(138.55,160.4) rotate(-90)" font-size="4.7" text-anchor="end" fill="#222" stroke="#222" stroke-width="0.3">TRBV27</text>
<line x1="140.89" y1="156.9" x2="140.89" y2="158.5" stroke="#444" stroke-width="0.4"/>
<text transform="translate(142.49,160.4) rotate(-90)" font-size="4.7" text-anchor="end" fill="#222" stroke="#222" stroke-width="0.3">TRBV28</text>
<line x1="144.83" y1="156.9" x2="144.83" y2="158.5" stroke="#444" stroke-width="0.4"/>
<text transform="translate(146.43,160.4) rotate(-90)" font-size="4.7" text-anchor="end" fill="#222" stroke="#222" stroke-width="0.3">TRBV29-1</text>
<line x1="148.77" y1="156.9" x2="148.77" y2="158.5" stroke="#444" stroke-width="0.4"/>
<text transform="translate(150.37,160.4) rotate(-90)" font-size="4.7" text-anchor="end" fill="#222" stroke="#222" stroke-width="0.3">TRBV3-1</text>
<line x1="152.71" y1="156.9" x2="152.71" y2="158.5" stroke="#444" stroke-width="0.4"/>
<text transform="translate(154.31,160.4) rotate(-90)" font-size="4.7" text-anchor="end" fill="#222" stroke="#222" stroke-width="0.3">TRBV30</text>
<line x1="156.65" y1="156.9" x2="156.65" y2="158.5" stroke="#444" stroke-width="0.4"/>
<text transform="translate(158.25,160.4) rotate(-90)" font-size="4.7" text-anchor="end" fill="#222" stroke="#222" stroke-width="0.3">TRBV4-1</text>
<line x1="160.59" y1="156.9" x2="160.59" y2="158.5" stroke="#444" stroke-width="0.4"/>
<text transform="translate(162.19,160.4) rotate(-90)" font-size="4.7" text-anchor="end" fill="#222" stroke="#222" stroke-width="0.3">TRBV4-2</text>
<line x1="164.53" y1="156.9" x2="164.53" y2="158.5" stroke="#444" stroke-width="0.4"/>
<text transform="translate(166.13,160.4) rotate(-90)" font-size="4.7" text-anchor="end" fill="#222" stroke="#222" stroke-width="0.3">TRBV4-3</text>
<line x1="168.47" y1="156.9" x2="168.47" y2="158.5" stroke="#444" stroke-width="0.4"/>
<text transform="translate(170.07,160.4) rotate(-90)" font-size="4.7" text-anchor="end" fill="#222" stroke="#222" stroke-width="0.3">TRBV5-1</text>
<line x1="172.41" y1="156.9" x2="172.41" y2="158.5" stroke="#444" stroke-width="0.4"/>
<text transform="translate(174.01,160.4) rotate(-90)" font-size="4.7" text-anchor="end" fill="#222" stroke="#222" stroke-width="0.3">TRBV5-3</text>
<line x1="176.35" y1="156.9" x2="176.35" y2="158.5" stroke="#444" stroke-width="0.4"/>
<text transform="translate(177.95,160.4) rotate(-90)" font-size="4.7" text-anchor="end" fill="#222" stroke="#222" stroke-width="0.3">TRBV5-4</text>
<line x1="180.29" y1="156.9" x2="180.29" y2="158.5" stroke="#444" stroke-width="0.4"/>
<text transform="translate(181.89,160.4) rotate(-90)" font-size="4.7" text-anchor="end" fill="#222" stroke="#222" stroke-width="0.3">TRBV5-5</text>
<line x1="184.23" y1="156.9" x2="184.23" y2="158.5" stroke="#444" stroke-width="0.4"/>
<text transform="translate(185.83,160.4) rotate(-90)" font-size="4.7" text-anchor="end" fill="#222" stroke="#222" stroke-width="0.3">TRBV5-6</text>
<line x1="188.17" y1="156.9" x2="188.17" y2="158.5" stroke="#444" stroke-width="0.4"/>
<text transform="translate(189.77,160.4) rotate(-90)" font-size="4.7" text-anchor="end" fill="#222" stroke="#222" stroke-width="0.3">TRBV5-8</text>
<line x1="192.11" y1="156.9" x2="192.11" y2="158.5" stroke="#444" stroke-width="0.4"/>
<text transform="translate(193.71,160.4) rotate(-90)" font-size="4.7" text-anchor="end" fill="#222" stroke="#222" stroke-width="0.3">TRBV6-1</text>
<line x1="196.05" y1="156.9" x2="196.05" y2="158.5" stroke="#444" stroke-width="0.4"/>
<text transform="translate(197.65,160.4) rotate(-90)" font-size="4.7" text-anchor="end" fill="#222" stroke="#222" stroke-width="0.3">TRBV6-2</text>
<line x1="199.99" y1="156.9" x2="199.99" y2="158.5" stroke="#444" stroke-width="0.4"/>
<text transform="translate(201.59,160.4) rotate(-90)" font-size="4.7" text-anchor="end" fill="#222" stroke="#222" stroke-width="0.3">TRBV6-3</text>
<line x1="203.93" y1="156.9" x2="203.93" y2="158.5" stroke="#444" stroke-width="0.4"/>
<text transform="translate(205.53,160.4) rotate(-90)" font-size="4.7" text-anchor="end" fill="#222" stroke="#222" stroke-width="0.3">TRBV6-4</text>
<line x1="207.87" y1="156.9" x2="207.87" y2="158.5" stroke="#444" stroke-width="0.4"/>
<text transform="translate(209.47,160.4) rotate(-90)" font-size="4.7" text-anchor="end" fill="#222" stroke="#222" stroke-width="0.3">TRBV6-5</text>
<line x1="211.81" y1="156.9" x2="211.81" y2="158.5" stroke="#444" stroke-width="0.4"/>
<text transform="translate(213.41,160.4) rotate(-90)" font-size="4.7" text-anchor="end" fill="#222" stroke="#222" stroke-width="0.3">TRBV6-6</text>
<line x1="215.75" y1="156.9" x2="215.75" y2="158.5" stroke="#444" stroke-width="0.4"/>
<text transform="translate(217.35,160.4) rotate(-90)" font-size="4.7" text-anchor="end" fill="#222" stroke="#222" stroke-width="0.3">TRBV6-8</text>
<line x1="219.69" y1="156.9" x2="219.69" y2="158.5" stroke="#444" stroke-width="0.4"/>
<text transform="translate(221.29,160.4) rotate(-90)" font-size="4.7" text-anchor="end" fill="#222" stroke="#222" stroke-width="0.3">TRBV6-9</text>
<line x1="223.63" y1="156.9" x2="223.63" y2="158.5" stroke="#444" stroke-width="0.4"/>
<text transform="translate(225.23,160.4) rotate(-90)" font-size="4.7" text-anchor="end" fill="#222" stroke="#222" stroke-width="0.3">TRBV7-2</text>
<line x1="227.57" y1="156.9" x2="227.57" y2="158.5" stroke="#444" stroke-width="0.4"/>
<text transform="translate(229.17,160.4) rotate(-90)" font-size="4.7" text-anchor="end" fill="#222" stroke="#222" stroke-width="0.3">TRBV7-3</text>
<line x1="231.51" y1="156.9" x2="231.51" y2="158.5" stroke="#444" stroke-width="0.4"/>
<text transform="translate(233.11,160.4) rotate(-90)" font-size="4.7" text-anchor="end" fill="#222" stroke="#222" stroke-width="0.3">TRBV7-4</text>
<line x1="235.45" y1="156.9" x2="235.45" y2="158.5" stroke="#444" stroke-width="0.4"/>
<text transform="translate(237.05,160.4) rotate(-90)" font-size="4.7" text-anchor="end" fill="#222" stroke="#222" stroke-width="0.3">TRBV7-6</text>
<line x1="239.39" y1="156.9" x2="239.39" y2="158.5" stroke="#444" stroke-width="0.4"/>
<text transform="translate(240.99,160.4) rotate(-90)" font-size="4.7" text-anchor="end" fill="#222" stroke="#222" stroke-width="0.3">TRBV7-8</text>
<line x1="243.33" y1="156.9" x2="243.33" y2="158.5" stroke="#444" stroke-width="0.4"/>
<text transform="translate(244.93,160.4) rotate(-90)" font-size="4.7" text-anchor="end" fill="#222" stroke="#222" stroke-width="0.3">TRBV7-9</text>
<text transform="translate(33.9,133.9) rotate(-90)" font-size="4.7" text-anchor="middle" fill="#262626" stroke="#262626" stroke-width="0.04">Frequency</text>
<line x1="313.7" y1="61.20" x2="315.3" y2="61.20" stroke="#111" stroke-width="0.5"/>
<text x="312.7" y="62.80" font-size="4.4" text-anchor="end" fill="#262626" stroke="#262626" stroke-width="0.04">0.00</text>
<line x1="315.3" y1="45.15" x2="513.2" y2="45.15" stroke="#bdbdbd" stroke-width="0.5" stroke-dasharray="1.5 1.3"/>
<line x1="313.7" y1="45.15" x2="315.3" y2="45.15" stroke="#111" stroke-width="0.5"/>
<text x="312.7" y="46.75" font-size="4.4" text-anchor="end" fill="#262626" stroke="#262626" stroke-width="0.04">0.05</text>
<line x1="315.3" y1="29.10" x2="513.2" y2="29.10" stroke="#bdbdbd" stroke-width="0.5" stroke-dasharray="1.5 1.3"/>
<line x1="313.7" y1="29.10" x2="315.3" y2="29.10" stroke="#111" stroke-width="0.5"/>
<text x="312.7" y="30.70" font-size="4.4" text-anchor="end" fill="#262626" stroke="#262626" stroke-width="0.04">0.10</text>
<rect x="316.05" y="17.54" width="3.44" height="43.66" fill="#c43a3b" stroke="#5a0c15" stroke-width="0.5"/>
<rect x="319.99" y="60.24" width="3.44" height="0.96" fill="#245a9e" stroke="#0c1c30" stroke-width="0.5"/>
<rect x="323.93" y="54.78" width="3.44" height="6.42" fill="#3f79b6" stroke="#0c1c30" stroke-width="0.5"/>
<rect x="327.87" y="56.71" width="3.44" height="4.49" fill="#356eae" stroke="#0c1c30" stroke-width="0.5"/>
<rect x="335.75" y="59.60" width="3.44" height="1.60" fill="#275ea1" stroke="#0c1c30" stroke-width="0.5"/>
<rect x="343.63" y="60.24" width="3.44" height="0.96" fill="#245a9e" stroke="#0c1c30" stroke-width="0.5"/>
<rect x="351.51" y="59.27" width="3.44" height="1.93" fill="#2960a2" stroke="#0c1c30" stroke-width="0.5"/>
<rect x="355.45" y="60.24" width="3.44" height="0.96" fill="#245a9e" stroke="#0c1c30" stroke-width="0.5"/>
<rect x="359.39" y="55.74" width="3.44" height="5.46" fill="#3a74b2" stroke="#0c1c30" stroke-width="0.5"/>
<rect x="363.33" y="57.67" width="3.44" height="3.53" fill="#3169a9" stroke="#0c1c30" stroke-width="0.5"/>
<rect x="371.21" y="47.40" width="3.44" height="13.80" fill="#9dcae3" stroke="#0c1c30" stroke-width="0.5"/>
<rect x="375.15" y="45.79" width="3.44" height="15.41" fill="#add3e7" stroke="#0c1c30" stroke-width="0.5"/>
<rect x="379.09" y="49.97" width="3.44" height="11.24" fill="#7db2d8" stroke="#0c1c30" stroke-width="0.5"/>
<rect x="383.03" y="15.94" width="3.44" height="45.26" fill="#b2182b" stroke="#5a0c15" stroke-width="0.5"/>
<rect x="386.97" y="60.24" width="3.44" height="0.96" fill="#245a9e" stroke="#0c1c30" stroke-width="0.5"/>
<rect x="394.85" y="56.71" width="3.44" height="4.49" fill="#356eae" stroke="#0c1c30" stroke-width="0.5"/>
<rect x="398.79" y="59.27" width="3.44" height="1.93" fill="#2960a2" stroke="#0c1c30" stroke-width="0.5"/>
<rect x="402.73" y="46.76" width="3.44" height="14.45" fill="#a3cee5" stroke="#0c1c30" stroke-width="0.5"/>
<rect x="406.67" y="42.26" width="3.44" height="18.94" fill="#dbecf6" stroke="#0c1c30" stroke-width="0.5"/>
<rect x="410.61" y="49.64" width="3.44" height="11.56" fill="#81b5d9" stroke="#0c1c30" stroke-width="0.5"/>
<rect x="414.55" y="52.53" width="3.44" height="8.67" fill="#5d94c5" stroke="#0c1c30" stroke-width="0.5"/>
<rect x="422.43" y="48.04" width="3.44" height="13.16" fill="#95c4e0" stroke="#0c1c30" stroke-width="0.5"/>
<rect x="426.37" y="54.78" width="3.44" height="6.42" fill="#3f79b6" stroke="#0c1c30" stroke-width="0.5"/>
<rect x="430.31" y="51.89" width="3.44" height="9.31" fill="#659bca" stroke="#0c1c30" stroke-width="0.5"/>
<rect x="434.25" y="46.76" width="3.44" height="14.45" fill="#a3cee5" stroke="#0c1c30" stroke-width="0.5"/>
<rect x="442.13" y="56.71" width="3.44" height="4.49" fill="#356eae" stroke="#0c1c30" stroke-width="0.5"/>
<rect x="446.07" y="60.56" width="3.44" height="0.64" fill="#22599d" stroke="#0c1c30" stroke-width="0.5"/>
<rect x="450.01" y="53.82" width="3.44" height="7.38" fill="#4c84bc" stroke="#0c1c30" stroke-width="0.5"/>
<rect x="453.95" y="60.56" width="3.44" height="0.64" fill="#22599d" stroke="#0c1c30" stroke-width="0.5"/>
<rect x="457.89" y="54.78" width="3.44" height="6.42" fill="#3f79b6" stroke="#0c1c30" stroke-width="0.5"/>
<rect x="461.83" y="60.24" width="3.44" height="0.96" fill="#245a9e" stroke="#0c1c30" stroke-width="0.5"/>
<rect x="465.77" y="54.78" width="3.44" height="6.42" fill="#3f79b6" stroke="#0c1c30" stroke-width="0.5"/>
<rect x="469.71" y="57.35" width="3.44" height="3.85" fill="#326bab" stroke="#0c1c30" stroke-width="0.5"/>
<rect x="477.59" y="59.27" width="3.44" height="1.93" fill="#2960a2" stroke="#0c1c30" stroke-width="0.5"/>
<rect x="481.53" y="55.42" width="3.44" height="5.78" fill="#3c75b3" stroke="#0c1c30" stroke-width="0.5"/>
<rect x="485.47" y="52.53" width="3.44" height="8.67" fill="#5d94c5" stroke="#0c1c30" stroke-width="0.5"/>
<rect x="493.35" y="59.92" width="3.44" height="1.28" fill="#255ca0" stroke="#0c1c30" stroke-width="0.5"/>
<rect x="501.23" y="59.27" width="3.44" height="1.93" fill="#2960a2" stroke="#0c1c30" stroke-width="0.5"/>
<rect x="505.17" y="50.93" width="3.44" height="10.27" fill="#71a7d1" stroke="#0c1c30" stroke-width="0.5"/>
<rect x="509.11" y="54.78" width="3.44" height="6.42" fill="#3f79b6" stroke="#0c1c30" stroke-width="0.5"/>
<line x1="315.3" y1="14.5" x2="315.3" y2="61.5" stroke="#2a2a2a" stroke-width="0.75"/>
<line x1="315.3" y1="61.2" x2="513.2" y2="61.2" stroke="#2a2a2a" stroke-width="0.75"/>
<line x1="317.77" y1="61.2" x2="317.77" y2="62.800000000000004" stroke="#444" stroke-width="0.4"/>
<text transform="translate(319.37,64.9) rotate(-90)" font-size="4.7" text-anchor="end" fill="#222" stroke="#222" stroke-width="0.3">AMBIGUOUS</text>
<line x1="321.71" y1="61.2" x2="321.71" y2="62.800000000000004" stroke="#444" stroke-width="0.4"/>
<text transform="translate(323.31,64.9) rotate(-90)" font-size="4.7" text-anchor="end" fill="#222" stroke="#222" stroke-width="0.3">TRBV10-1</text>
<line x1="325.65" y1="61.2" x2="325.65" y2="62.800000000000004" stroke="#444" stroke-width="0.4"/>
<text transform="translate(327.25,64.9) rotate(-90)" font-size="4.7" text-anchor="end" fill="#222" stroke="#222" stroke-width="0.3">TRBV10-2</text>
<line x1="329.59" y1="61.2" x2="329.59" y2="62.800000000000004" stroke="#444" stroke-width="0.4"/>
<text transform="translate(331.19,64.9) rotate(-90)" font-size="4.7" text-anchor="end" fill="#222" stroke="#222" stroke-width="0.3">TRBV10-3</text>
<line x1="333.53" y1="61.2" x2="333.53" y2="62.800000000000004" stroke="#444" stroke-width="0.4"/>
<text transform="translate(335.13,64.9) rotate(-90)" font-size="4.7" text-anchor="end" fill="#222" stroke="#222" stroke-width="0.3">TRBV11-1</text>
<line x1="337.47" y1="61.2" x2="337.47" y2="62.800000000000004" stroke="#444" stroke-width="0.4"/>
<text transform="translate(339.07,64.9) rotate(-90)" font-size="4.7" text-anchor="end" fill="#222" stroke="#222" stroke-width="0.3">TRBV11-2</text>
<line x1="341.41" y1="61.2" x2="341.41" y2="62.800000000000004" stroke="#444" stroke-width="0.4"/>
<text transform="translate(343.01,64.9) rotate(-90)" font-size="4.7" text-anchor="end" fill="#222" stroke="#222" stroke-width="0.3">TRBV11-3</text>
<line x1="345.35" y1="61.2" x2="345.35" y2="62.800000000000004" stroke="#444" stroke-width="0.4"/>
<text transform="translate(346.95,64.9) rotate(-90)" font-size="4.7" text-anchor="end" fill="#222" stroke="#222" stroke-width="0.3">TRBV12-3</text>
<line x1="349.29" y1="61.2" x2="349.29" y2="62.800000000000004" stroke="#444" stroke-width="0.4"/>
<text transform="translate(350.89,64.9) rotate(-90)" font-size="4.7" text-anchor="end" fill="#222" stroke="#222" stroke-width="0.3">TRBV12-4</text>
<line x1="353.23" y1="61.2" x2="353.23" y2="62.800000000000004" stroke="#444" stroke-width="0.4"/>
<text transform="translate(354.83,64.9) rotate(-90)" font-size="4.7" text-anchor="end" fill="#222" stroke="#222" stroke-width="0.3">TRBV12-5</text>
<line x1="357.17" y1="61.2" x2="357.17" y2="62.800000000000004" stroke="#444" stroke-width="0.4"/>
<text transform="translate(358.77,64.9) rotate(-90)" font-size="4.7" text-anchor="end" fill="#222" stroke="#222" stroke-width="0.3">TRBV13</text>
<line x1="361.11" y1="61.2" x2="361.11" y2="62.800000000000004" stroke="#444" stroke-width="0.4"/>
<text transform="translate(362.71,64.9) rotate(-90)" font-size="4.7" text-anchor="end" fill="#222" stroke="#222" stroke-width="0.3">TRBV14</text>
<line x1="365.05" y1="61.2" x2="365.05" y2="62.800000000000004" stroke="#444" stroke-width="0.4"/>
<text transform="translate(366.65,64.9) rotate(-90)" font-size="4.7" text-anchor="end" fill="#222" stroke="#222" stroke-width="0.3">TRBV15</text>
<line x1="368.99" y1="61.2" x2="368.99" y2="62.800000000000004" stroke="#444" stroke-width="0.4"/>
<text transform="translate(370.59,64.9) rotate(-90)" font-size="4.7" text-anchor="end" fill="#222" stroke="#222" stroke-width="0.3">TRBV16</text>
<line x1="372.93" y1="61.2" x2="372.93" y2="62.800000000000004" stroke="#444" stroke-width="0.4"/>
<text transform="translate(374.53,64.9) rotate(-90)" font-size="4.7" text-anchor="end" fill="#222" stroke="#222" stroke-width="0.3">TRBV18</text>
<line x1="376.87" y1="61.2" x2="376.87" y2="62.800000000000004" stroke="#444" stroke-width="0.4"/>
<text transform="translate(378.47,64.9) rotate(-90)" font-size="4.7" text-anchor="end" fill="#222" stroke="#222" stroke-width="0.3">TRBV19</text>
<line x1="380.81" y1="61.2" x2="380.81" y2="62.800000000000004" stroke="#444" stroke-width="0.4"/>
<text transform="translate(382.41,64.9) rotate(-90)" font-size="4.7" text-anchor="end" fill="#222" stroke="#222" stroke-width="0.3">TRBV2</text>
<line x1="384.75" y1="61.2" x2="384.75" y2="62.800000000000004" stroke="#444" stroke-width="0.4"/>
<text transform="translate(386.35,64.9) rotate(-90)" font-size="4.7" text-anchor="end" fill="#222" stroke="#222" stroke-width="0.3">TRBV20-1</text>
<line x1="388.69" y1="61.2" x2="388.69" y2="62.800000000000004" stroke="#444" stroke-width="0.4"/>
<text transform="translate(390.29,64.9) rotate(-90)" font-size="4.7" text-anchor="end" fill="#222" stroke="#222" stroke-width="0.3">TRBV21-1</text>
<line x1="392.63" y1="61.2" x2="392.63" y2="62.800000000000004" stroke="#444" stroke-width="0.4"/>
<text transform="translate(394.23,64.9) rotate(-90)" font-size="4.7" text-anchor="end" fill="#222" stroke="#222" stroke-width="0.3">TRBV23-1</text>
<line x1="396.57" y1="61.2" x2="396.57" y2="62.800000000000004" stroke="#444" stroke-width="0.4"/>
<text transform="translate(398.17,64.9) rotate(-90)" font-size="4.7" text-anchor="end" fill="#222" stroke="#222" stroke-width="0.3">TRBV24-1</text>
<line x1="400.51" y1="61.2" x2="400.51" y2="62.800000000000004" stroke="#444" stroke-width="0.4"/>
<text transform="translate(402.11,64.9) rotate(-90)" font-size="4.7" text-anchor="end" fill="#222" stroke="#222" stroke-width="0.3">TRBV25-1</text>
<line x1="404.45" y1="61.2" x2="404.45" y2="62.800000000000004" stroke="#444" stroke-width="0.4"/>
<text transform="translate(406.05,64.9) rotate(-90)" font-size="4.7" text-anchor="end" fill="#222" stroke="#222" stroke-width="0.3">TRBV27</text>
<line x1="408.39" y1="61.2" x2="408.39" y2="62.800000000000004" stroke="#444" stroke-width="0.4"/>
<text transform="translate(409.99,64.9) rotate(-90)" font-size="4.7" text-anchor="end" fill="#222" stroke="#222" stroke-width="0.3">TRBV28</text>
<line x1="412.33" y1="61.2" x2="412.33" y2="62.800000000000004" stroke="#444" stroke-width="0.4"/>
<text transform="translate(413.93,64.9) rotate(-90)" font-size="4.7" text-anchor="end" fill="#222" stroke="#222" stroke-width="0.3">TRBV29-1</text>
<line x1="416.27" y1="61.2" x2="416.27" y2="62.800000000000004" stroke="#444" stroke-width="0.4"/>
<text transform="translate(417.87,64.9) rotate(-90)" font-size="4.7" text-anchor="end" fill="#222" stroke="#222" stroke-width="0.3">TRBV3-1</text>
<line x1="420.21" y1="61.2" x2="420.21" y2="62.800000000000004" stroke="#444" stroke-width="0.4"/>
<text transform="translate(421.81,64.9) rotate(-90)" font-size="4.7" text-anchor="end" fill="#222" stroke="#222" stroke-width="0.3">TRBV30</text>
<line x1="424.15" y1="61.2" x2="424.15" y2="62.800000000000004" stroke="#444" stroke-width="0.4"/>
<text transform="translate(425.75,64.9) rotate(-90)" font-size="4.7" text-anchor="end" fill="#222" stroke="#222" stroke-width="0.3">TRBV4-1</text>
<line x1="428.09" y1="61.2" x2="428.09" y2="62.800000000000004" stroke="#444" stroke-width="0.4"/>
<text transform="translate(429.69,64.9) rotate(-90)" font-size="4.7" text-anchor="end" fill="#222" stroke="#222" stroke-width="0.3">TRBV4-2</text>
<line x1="432.03" y1="61.2" x2="432.03" y2="62.800000000000004" stroke="#444" stroke-width="0.4"/>
<text transform="translate(433.63,64.9) rotate(-90)" font-size="4.7" text-anchor="end" fill="#222" stroke="#222" stroke-width="0.3">TRBV4-3</text>
<line x1="435.97" y1="61.2" x2="435.97" y2="62.800000000000004" stroke="#444" stroke-width="0.4"/>
<text transform="translate(437.57,64.9) rotate(-90)" font-size="4.7" text-anchor="end" fill="#222" stroke="#222" stroke-width="0.3">TRBV5-1</text>
<line x1="439.91" y1="61.2" x2="439.91" y2="62.800000000000004" stroke="#444" stroke-width="0.4"/>
<text transform="translate(441.51,64.9) rotate(-90)" font-size="4.7" text-anchor="end" fill="#222" stroke="#222" stroke-width="0.3">TRBV5-3</text>
<line x1="443.85" y1="61.2" x2="443.85" y2="62.800000000000004" stroke="#444" stroke-width="0.4"/>
<text transform="translate(445.45,64.9) rotate(-90)" font-size="4.7" text-anchor="end" fill="#222" stroke="#222" stroke-width="0.3">TRBV5-4</text>
<line x1="447.79" y1="61.2" x2="447.79" y2="62.800000000000004" stroke="#444" stroke-width="0.4"/>
<text transform="translate(449.39,64.9) rotate(-90)" font-size="4.7" text-anchor="end" fill="#222" stroke="#222" stroke-width="0.3">TRBV5-5</text>
<line x1="451.73" y1="61.2" x2="451.73" y2="62.800000000000004" stroke="#444" stroke-width="0.4"/>
<text transform="translate(453.33,64.9) rotate(-90)" font-size="4.7" text-anchor="end" fill="#222" stroke="#222" stroke-width="0.3">TRBV5-6</text>
<line x1="455.67" y1="61.2" x2="455.67" y2="62.800000000000004" stroke="#444" stroke-width="0.4"/>
<text transform="translate(457.27,64.9) rotate(-90)" font-size="4.7" text-anchor="end" fill="#222" stroke="#222" stroke-width="0.3">TRBV5-8</text>
<line x1="459.61" y1="61.2" x2="459.61" y2="62.800000000000004" stroke="#444" stroke-width="0.4"/>
<text transform="translate(461.21,64.9) rotate(-90)" font-size="4.7" text-anchor="end" fill="#222" stroke="#222" stroke-width="0.3">TRBV6-1</text>
<line x1="463.55" y1="61.2" x2="463.55" y2="62.800000000000004" stroke="#444" stroke-width="0.4"/>
<text transform="translate(465.15,64.9) rotate(-90)" font-size="4.7" text-anchor="end" fill="#222" stroke="#222" stroke-width="0.3">TRBV6-2</text>
<line x1="467.49" y1="61.2" x2="467.49" y2="62.800000000000004" stroke="#444" stroke-width="0.4"/>
<text transform="translate(469.09,64.9) rotate(-90)" font-size="4.7" text-anchor="end" fill="#222" stroke="#222" stroke-width="0.3">TRBV6-3</text>
<line x1="471.43" y1="61.2" x2="471.43" y2="62.800000000000004" stroke="#444" stroke-width="0.4"/>
<text transform="translate(473.03,64.9) rotate(-90)" font-size="4.7" text-anchor="end" fill="#222" stroke="#222" stroke-width="0.3">TRBV6-4</text>
<line x1="475.37" y1="61.2" x2="475.37" y2="62.800000000000004" stroke="#444" stroke-width="0.4"/>
<text transform="translate(476.97,64.9) rotate(-90)" font-size="4.7" text-anchor="end" fill="#222" stroke="#222" stroke-width="0.3">TRBV6-5</text>
<line x1="479.31" y1="61.2" x2="479.31" y2="62.800000000000004" stroke="#444" stroke-width="0.4"/>
<text transform="translate(480.91,64.9) rotate(-90)" font-size="4.7" text-anchor="end" fill="#222" stroke="#222" stroke-width="0.3">TRBV6-6</text>
<line x1="483.25" y1="61.2" x2="483.25" y2="62.800000000000004" stroke="#444" stroke-width="0.4"/>
<text transform="translate(484.85,64.9) rotate(-90)" font-size="4.7" text-anchor="end" fill="#222" stroke="#222" stroke-width="0.3">TRBV6-8</text>
<line x1="487.19" y1="61.2" x2="487.19" y2="62.800000000000004" stroke="#444" stroke-width="0.4"/>
<text transform="translate(488.79,64.9) rotate(-90)" font-size="4.7" text-anchor="end" fill="#222" stroke="#222" stroke-width="0.3">TRBV6-9</text>
<line x1="491.13" y1="61.2" x2="491.13" y2="62.800000000000004" stroke="#444" stroke-width="0.4"/>
<text transform="translate(492.73,64.9) rotate(-90)" font-size="4.7" text-anchor="end" fill="#222" stroke="#222" stroke-width="0.3">TRBV7-2</text>
<line x1="495.07" y1="61.2" x2="495.07" y2="62.800000000000004" stroke="#444" stroke-width="0.4"/>
<text transform="translate(496.67,64.9) rotate(-90)" font-size="4.7" text-anchor="end" fill="#222" stroke="#222" stroke-width="0.3">TRBV7-3</text>
<line x1="499.01" y1="61.2" x2="499.01" y2="62.800000000000004" stroke="#444" stroke-width="0.4"/>
<text transform="translate(500.61,64.9) rotate(-90)" font-size="4.7" text-anchor="end" fill="#222" stroke="#222" stroke-width="0.3">TRBV7-4</text>
<line x1="502.95" y1="61.2" x2="502.95" y2="62.800000000000004" stroke="#444" stroke-width="0.4"/>
<text transform="translate(504.55,64.9) rotate(-90)" font-size="4.7" text-anchor="end" fill="#222" stroke="#222" stroke-width="0.3">TRBV7-6</text>
<line x1="506.89" y1="61.2" x2="506.89" y2="62.800000000000004" stroke="#444" stroke-width="0.4"/>
<text transform="translate(508.49,64.9) rotate(-90)" font-size="4.7" text-anchor="end" fill="#222" stroke="#222" stroke-width="0.3">TRBV7-8</text>
<line x1="510.83" y1="61.2" x2="510.83" y2="62.800000000000004" stroke="#444" stroke-width="0.4"/>
<text transform="translate(512.43,64.9) rotate(-90)" font-size="4.7" text-anchor="end" fill="#222" stroke="#222" stroke-width="0.3">TRBV7-9</text>
<text transform="translate(301.6,38.3) rotate(-90)" font-size="4.7" text-anchor="middle" fill="#262626" stroke="#262626" stroke-width="0.04">Frequency</text>
<line x1="313.7" y1="153.80" x2="315.3" y2="153.80" stroke="#111" stroke-width="0.5"/>
<text x="312.7" y="155.40" font-size="4.4" text-anchor="end" fill="#262626" stroke="#262626" stroke-width="0.04">0.00</text>
<line x1="315.3" y1="138.70" x2="513.2" y2="138.70" stroke="#bdbdbd" stroke-width="0.5" stroke-dasharray="1.5 1.3"/>
<line x1="313.7" y1="138.70" x2="315.3" y2="138.70" stroke="#111" stroke-width="0.5"/>
<text x="312.7" y="140.30" font-size="4.4" text-anchor="end" fill="#262626" stroke="#262626" stroke-width="0.04">0.05</text>
<line x1="315.3" y1="123.60" x2="513.2" y2="123.60" stroke="#bdbdbd" stroke-width="0.5" stroke-dasharray="1.5 1.3"/>
<line x1="313.7" y1="123.60" x2="315.3" y2="123.60" stroke="#111" stroke-width="0.5"/>
<text x="312.7" y="125.20" font-size="4.4" text-anchor="end" fill="#262626" stroke="#262626" stroke-width="0.04">0.10</text>
<line x1="315.3" y1="108.50" x2="513.2" y2="108.50" stroke="#bdbdbd" stroke-width="0.5" stroke-dasharray="1.5 1.3"/>
<line x1="313.7" y1="108.50" x2="315.3" y2="108.50" stroke="#111" stroke-width="0.5"/>
<text x="312.7" y="110.10" font-size="4.4" text-anchor="end" fill="#262626" stroke="#262626" stroke-width="0.04">0.15</text>
<rect x="316.05" y="130.24" width="3.44" height="23.56" fill="#f6f8fa" stroke="#0c1c30" stroke-width="0.5"/>
<rect x="319.99" y="152.29" width="3.44" height="1.51" fill="#275ea1" stroke="#0c1c30" stroke-width="0.5"/>
<rect x="327.87" y="152.29" width="3.44" height="1.51" fill="#275ea1" stroke="#0c1c30" stroke-width="0.5"/>
<rect x="331.81" y="151.08" width="3.44" height="2.72" fill="#2d65a7" stroke="#0c1c30" stroke-width="0.5"/>
<rect x="335.75" y="144.14" width="3.44" height="9.66" fill="#71a7d1" stroke="#0c1c30" stroke-width="0.5"/>
<rect x="339.69" y="152.29" width="3.44" height="1.51" fill="#275ea1" stroke="#0c1c30" stroke-width="0.5"/>
<rect x="359.39" y="149.27" width="3.44" height="4.53" fill="#3770af" stroke="#0c1c30" stroke-width="0.5"/>
<rect x="363.33" y="141.72" width="3.44" height="12.08" fill="#91c1df" stroke="#0c1c30" stroke-width="0.5"/>
<rect x="371.21" y="141.72" width="3.44" height="12.08" fill="#91c1df" stroke="#0c1c30" stroke-width="0.5"/>
<rect x="375.15" y="143.23" width="3.44" height="10.57" fill="#7db2d8" stroke="#0c1c30" stroke-width="0.5"/>
<rect x="379.09" y="140.51" width="3.44" height="13.29" fill="#a0cce4" stroke="#0c1c30" stroke-width="0.5"/>
<rect x="383.03" y="108.20" width="3.44" height="45.60" fill="#b2182b" stroke="#5a0c15" stroke-width="0.5"/>
<rect x="386.97" y="152.29" width="3.44" height="1.51" fill="#275ea1" stroke="#0c1c30" stroke-width="0.5"/>
<rect x="390.91" y="151.38" width="3.44" height="2.42" fill="#2c63a5" stroke="#0c1c30" stroke-width="0.5"/>
<rect x="394.85" y="151.38" width="3.44" height="2.42" fill="#2c63a5" stroke="#0c1c30" stroke-width="0.5"/>
<rect x="398.79" y="152.29" width="3.44" height="1.51" fill="#275ea1" stroke="#0c1c30" stroke-width="0.5"/>
<rect x="402.73" y="139.00" width="3.44" height="14.80" fill="#b0d5e8" stroke="#0c1c30" stroke-width="0.5"/>
<rect x="406.67" y="128.73" width="3.44" height="25.07" fill="#f7f8f9" stroke="#0c1c30" stroke-width="0.5"/>
<rect x="410.61" y="140.51" width="3.44" height="13.29" fill="#a0cce4" stroke="#0c1c30" stroke-width="0.5"/>
<rect x="414.55" y="144.14" width="3.44" height="9.66" fill="#71a7d1" stroke="#0c1c30" stroke-width="0.5"/>
<rect x="418.49" y="152.59" width="3.44" height="1.21" fill="#255ca0" stroke="#0c1c30" stroke-width="0.5"/>
<rect x="422.43" y="147.16" width="3.44" height="6.64" fill="#4881ba" stroke="#0c1c30" stroke-width="0.5"/>
<rect x="426.37" y="148.36" width="3.44" height="5.44" fill="#3c75b3" stroke="#0c1c30" stroke-width="0.5"/>
<rect x="430.31" y="152.89" width="3.44" height="0.91" fill="#245a9e" stroke="#0c1c30" stroke-width="0.5"/>
<rect x="434.25" y="141.72" width="3.44" height="12.08" fill="#91c1df" stroke="#0c1c30" stroke-width="0.5"/>
<rect x="438.19" y="149.57" width="3.44" height="4.23" fill="#356eae" stroke="#0c1c30" stroke-width="0.5"/>
<rect x="442.13" y="152.29" width="3.44" height="1.51" fill="#275ea1" stroke="#0c1c30" stroke-width="0.5"/>
<rect x="450.01" y="151.08" width="3.44" height="2.72" fill="#2d65a7" stroke="#0c1c30" stroke-width="0.5"/>
<rect x="453.95" y="151.08" width="3.44" height="2.72" fill="#2d65a7" stroke="#0c1c30" stroke-width="0.5"/>
<rect x="457.89" y="149.87" width="3.44" height="3.93" fill="#346cac" stroke="#0c1c30" stroke-width="0.5"/>
<rect x="461.83" y="151.08" width="3.44" height="2.72" fill="#2d65a7" stroke="#0c1c30" stroke-width="0.5"/>
<rect x="465.77" y="148.36" width="3.44" height="5.44" fill="#3c75b3" stroke="#0c1c30" stroke-width="0.5"/>
<rect x="469.71" y="148.36" width="3.44" height="5.44" fill="#3c75b3" stroke="#0c1c30" stroke-width="0.5"/>
<rect x="481.53" y="141.72" width="3.44" height="12.08" fill="#91c1df" stroke="#0c1c30" stroke-width="0.5"/>
<rect x="485.47" y="148.06" width="3.44" height="5.74" fill="#3d77b5" stroke="#0c1c30" stroke-width="0.5"/>
<rect x="501.23" y="148.06" width="3.44" height="5.74" fill="#3d77b5" stroke="#0c1c30" stroke-width="0.5"/>
<rect x="505.17" y="141.72" width="3.44" height="12.08" fill="#91c1df" stroke="#0c1c30" stroke-width="0.5"/>
<rect x="509.11" y="143.23" width="3.44" height="10.57" fill="#7db2d8" stroke="#0c1c30" stroke-width="0.5"/>
<line x1="315.3" y1="107.7" x2="315.3" y2="154.10000000000002" stroke="#2a2a2a" stroke-width="0.75"/>
<line x1="315.3" y1="153.8" x2="513.2" y2="153.8" stroke="#2a2a2a" stroke-width="0.75"/>
<line x1="317.77" y1="153.8" x2="317.77" y2="155.4" stroke="#444" stroke-width="0.4"/>
<text transform="translate(319.37,156.9) rotate(-90)" font-size="4.7" text-anchor="end" fill="#222" stroke="#222" stroke-width="0.3">AMBIGUOUS</text>
<line x1="321.71" y1="153.8" x2="321.71" y2="155.4" stroke="#444" stroke-width="0.4"/>
<text transform="translate(323.31,156.9) rotate(-90)" font-size="4.7" text-anchor="end" fill="#222" stroke="#222" stroke-width="0.3">TRBV10-1</text>
<line x1="325.65" y1="153.8" x2="325.65" y2="155.4" stroke="#444" stroke-width="0.4"/>
<text transform="translate(327.25,156.9) rotate(-90)" font-size="4.7" text-anchor="end" fill="#222" stroke="#222" stroke-width="0.3">TRBV10-2</text>
<line x1="329.59" y1="153.8" x2="329.59" y2="155.4" stroke="#444" stroke-width="0.4"/>
<text transform="translate(331.19,156.9) rotate(-90)" font-size="4.7" text-anchor="end" fill="#222" stroke="#222" stroke-width="0.3">TRBV10-3</text>
<line x1="333.53" y1="153.8" x2="333.53" y2="155.4" stroke="#444" stroke-width="0.4"/>
<text transform="translate(335.13,156.9) rotate(-90)" font-size="4.7" text-anchor="end" fill="#222" stroke="#222" stroke-width="0.3">TRBV11-1</text>
<line x1="337.47" y1="153.8" x2="337.47" y2="155.4" stroke="#444" stroke-width="0.4"/>
<text transform="translate(339.07,156.9) rotate(-90)" font-size="4.7" text-anchor="end" fill="#222" stroke="#222" stroke-width="0.3">TRBV11-2</text>
<line x1="341.41" y1="153.8" x2="341.41" y2="155.4" stroke="#444" stroke-width="0.4"/>
<text transform="translate(343.01,156.9) rotate(-90)" font-size="4.7" text-anchor="end" fill="#222" stroke="#222" stroke-width="0.3">TRBV11-3</text>
<line x1="345.35" y1="153.8" x2="345.35" y2="155.4" stroke="#444" stroke-width="0.4"/>
<text transform="translate(346.95,156.9) rotate(-90)" font-size="4.7" text-anchor="end" fill="#222" stroke="#222" stroke-width="0.3">TRBV12-3</text>
<line x1="349.29" y1="153.8" x2="349.29" y2="155.4" stroke="#444" stroke-width="0.4"/>
<text transform="translate(350.89,156.9) rotate(-90)" font-size="4.7" text-anchor="end" fill="#222" stroke="#222" stroke-width="0.3">TRBV12-4</text>
<line x1="353.23" y1="153.8" x2="353.23" y2="155.4" stroke="#444" stroke-width="0.4"/>
<text transform="translate(354.83,156.9) rotate(-90)" font-size="4.7" text-anchor="end" fill="#222" stroke="#222" stroke-width="0.3">TRBV12-5</text>
<line x1="357.17" y1="153.8" x2="357.17" y2="155.4" stroke="#444" stroke-width="0.4"/>
<text transform="translate(358.77,156.9) rotate(-90)" font-size="4.7" text-anchor="end" fill="#222" stroke="#222" stroke-width="0.3">TRBV13</text>
<line x1="361.11" y1="153.8" x2="361.11" y2="155.4" stroke="#444" stroke-width="0.4"/>
<text transform="translate(362.71,156.9) rotate(-90)" font-size="4.7" text-anchor="end" fill="#222" stroke="#222" stroke-width="0.3">TRBV14</text>
<line x1="365.05" y1="153.8" x2="365.05" y2="155.4" stroke="#444" stroke-width="0.4"/>
<text transform="translate(366.65,156.9) rotate(-90)" font-size="4.7" text-anchor="end" fill="#222" stroke="#222" stroke-width="0.3">TRBV15</text>
<line x1="368.99" y1="153.8" x2="368.99" y2="155.4" stroke="#444" stroke-width="0.4"/>
<text transform="translate(370.59,156.9) rotate(-90)" font-size="4.7" text-anchor="end" fill="#222" stroke="#222" stroke-width="0.3">TRBV16</text>
<line x1="372.93" y1="153.8" x2="372.93" y2="155.4" stroke="#444" stroke-width="0.4"/>
<text transform="translate(374.53,156.9) rotate(-90)" font-size="4.7" text-anchor="end" fill="#222" stroke="#222" stroke-width="0.3">TRBV18</text>
<line x1="376.87" y1="153.8" x2="376.87" y2="155.4" stroke="#444" stroke-width="0.4"/>
<text transform="translate(378.47,156.9) rotate(-90)" font-size="4.7" text-anchor="end" fill="#222" stroke="#222" stroke-width="0.3">TRBV19</text>
<line x1="380.81" y1="153.8" x2="380.81" y2="155.4" stroke="#444" stroke-width="0.4"/>
<text transform="translate(382.41,156.9) rotate(-90)" font-size="4.7" text-anchor="end" fill="#222" stroke="#222" stroke-width="0.3">TRBV2</text>
<line x1="384.75" y1="153.8" x2="384.75" y2="155.4" stroke="#444" stroke-width="0.4"/>
<text transform="translate(386.35,156.9) rotate(-90)" font-size="4.7" text-anchor="end" fill="#222" stroke="#222" stroke-width="0.3">TRBV20-1</text>
<line x1="388.69" y1="153.8" x2="388.69" y2="155.4" stroke="#444" stroke-width="0.4"/>
<text transform="translate(390.29,156.9) rotate(-90)" font-size="4.7" text-anchor="end" fill="#222" stroke="#222" stroke-width="0.3">TRBV21-1</text>
<line x1="392.63" y1="153.8" x2="392.63" y2="155.4" stroke="#444" stroke-width="0.4"/>
<text transform="translate(394.23,156.9) rotate(-90)" font-size="4.7" text-anchor="end" fill="#222" stroke="#222" stroke-width="0.3">TRBV23-1</text>
<line x1="396.57" y1="153.8" x2="396.57" y2="155.4" stroke="#444" stroke-width="0.4"/>
<text transform="translate(398.17,156.9) rotate(-90)" font-size="4.7" text-anchor="end" fill="#222" stroke="#222" stroke-width="0.3">TRBV24-1</text>
<line x1="400.51" y1="153.8" x2="400.51" y2="155.4" stroke="#444" stroke-width="0.4"/>
<text transform="translate(402.11,156.9) rotate(-90)" font-size="4.7" text-anchor="end" fill="#222" stroke="#222" stroke-width="0.3">TRBV25-1</text>
<line x1="404.45" y1="153.8" x2="404.45" y2="155.4" stroke="#444" stroke-width="0.4"/>
<text transform="translate(406.05,156.9) rotate(-90)" font-size="4.7" text-anchor="end" fill="#222" stroke="#222" stroke-width="0.3">TRBV27</text>
<line x1="408.39" y1="153.8" x2="408.39" y2="155.4" stroke="#444" stroke-width="0.4"/>
<text transform="translate(409.99,156.9) rotate(-90)" font-size="4.7" text-anchor="end" fill="#222" stroke="#222" stroke-width="0.3">TRBV28</text>
<line x1="412.33" y1="153.8" x2="412.33" y2="155.4" stroke="#444" stroke-width="0.4"/>
<text transform="translate(413.93,156.9) rotate(-90)" font-size="4.7" text-anchor="end" fill="#222" stroke="#222" stroke-width="0.3">TRBV29-1</text>
<line x1="416.27" y1="153.8" x2="416.27" y2="155.4" stroke="#444" stroke-width="0.4"/>
<text transform="translate(417.87,156.9) rotate(-90)" font-size="4.7" text-anchor="end" fill="#222" stroke="#222" stroke-width="0.3">TRBV3-1</text>
<line x1="420.21" y1="153.8" x2="420.21" y2="155.4" stroke="#444" stroke-width="0.4"/>
<text transform="translate(421.81,156.9) rotate(-90)" font-size="4.7" text-anchor="end" fill="#222" stroke="#222" stroke-width="0.3">TRBV30</text>
<line x1="424.15" y1="153.8" x2="424.15" y2="155.4" stroke="#444" stroke-width="0.4"/>
<text transform="translate(425.75,156.9) rotate(-90)" font-size="4.7" text-anchor="end" fill="#222" stroke="#222" stroke-width="0.3">TRBV4-1</text>
<line x1="428.09" y1="153.8" x2="428.09" y2="155.4" stroke="#444" stroke-width="0.4"/>
<text transform="translate(429.69,156.9) rotate(-90)" font-size="4.7" text-anchor="end" fill="#222" stroke="#222" stroke-width="0.3">TRBV4-2</text>
<line x1="432.03" y1="153.8" x2="432.03" y2="155.4" stroke="#444" stroke-width="0.4"/>
<text transform="translate(433.63,156.9) rotate(-90)" font-size="4.7" text-anchor="end" fill="#222" stroke="#222" stroke-width="0.3">TRBV4-3</text>
<line x1="435.97" y1="153.8" x2="435.97" y2="155.4" stroke="#444" stroke-width="0.4"/>
<text transform="translate(437.57,156.9) rotate(-90)" font-size="4.7" text-anchor="end" fill="#222" stroke="#222" stroke-width="0.3">TRBV5-1</text>
<line x1="439.91" y1="153.8" x2="439.91" y2="155.4" stroke="#444" stroke-width="0.4"/>
<text transform="translate(441.51,156.9) rotate(-90)" font-size="4.7" text-anchor="end" fill="#222" stroke="#222" stroke-width="0.3">TRBV5-3</text>
<line x1="443.85" y1="153.8" x2="443.85" y2="155.4" stroke="#444" stroke-width="0.4"/>
<text transform="translate(445.45,156.9) rotate(-90)" font-size="4.7" text-anchor="end" fill="#222" stroke="#222" stroke-width="0.3">TRBV5-4</text>
<line x1="447.79" y1="153.8" x2="447.79" y2="155.4" stroke="#444" stroke-width="0.4"/>
<text transform="translate(449.39,156.9) rotate(-90)" font-size="4.7" text-anchor="end" fill="#222" stroke="#222" stroke-width="0.3">TRBV5-5</text>
<line x1="451.73" y1="153.8" x2="451.73" y2="155.4" stroke="#444" stroke-width="0.4"/>
<text transform="translate(453.33,156.9) rotate(-90)" font-size="4.7" text-anchor="end" fill="#222" stroke="#222" stroke-width="0.3">TRBV5-6</text>
<line x1="455.67" y1="153.8" x2="455.67" y2="155.4" stroke="#444" stroke-width="0.4"/>
<text transform="translate(457.27,156.9) rotate(-90)" font-size="4.7" text-anchor="end" fill="#222" stroke="#222" stroke-width="0.3">TRBV5-8</text>
<line x1="459.61" y1="153.8" x2="459.61" y2="155.4" stroke="#444" stroke-width="0.4"/>
<text transform="translate(461.21,156.9) rotate(-90)" font-size="4.7" text-anchor="end" fill="#222" stroke="#222" stroke-width="0.3">TRBV6-1</text>
<line x1="463.55" y1="153.8" x2="463.55" y2="155.4" stroke="#444" stroke-width="0.4"/>
<text transform="translate(465.15,156.9) rotate(-90)" font-size="4.7" text-anchor="end" fill="#222" stroke="#222" stroke-width="0.3">TRBV6-2</text>
<line x1="467.49" y1="153.8" x2="467.49" y2="155.4" stroke="#444" stroke-width="0.4"/>
<text transform="translate(469.09,156.9) rotate(-90)" font-size="4.7" text-anchor="end" fill="#222" stroke="#222" stroke-width="0.3">TRBV6-3</text>
<line x1="471.43" y1="153.8" x2="471.43" y2="155.4" stroke="#444" stroke-width="0.4"/>
<text transform="translate(473.03,156.9) rotate(-90)" font-size="4.7" text-anchor="end" fill="#222" stroke="#222" stroke-width="0.3">TRBV6-4</text>
<line x1="475.37" y1="153.8" x2="475.37" y2="155.4" stroke="#444" stroke-width="0.4"/>
<text transform="translate(476.97,156.9) rotate(-90)" font-size="4.7" text-anchor="end" fill="#222" stroke="#222" stroke-width="0.3">TRBV6-5</text>
<line x1="479.31" y1="153.8" x2="479.31" y2="155.4" stroke="#444" stroke-width="0.4"/>
<text transform="translate(480.91,156.9) rotate(-90)" font-size="4.7" text-anchor="end" fill="#222" stroke="#222" stroke-width="0.3">TRBV6-6</text>
<line x1="483.25" y1="153.8" x2="483.25" y2="155.4" stroke="#444" stroke-width="0.4"/>
<text transform="translate(484.85,156.9) rotate(-90)" font-size="4.7" text-anchor="end" fill="#222" stroke="#222" stroke-width="0.3">TRBV6-8</text>
<line x1="487.19" y1="153.8" x2="487.19" y2="155.4" stroke="#444" stroke-width="0.4"/>
<text transform="translate(488.79,156.9) rotate(-90)" font-size="4.7" text-anchor="end" fill="#222" stroke="#222" stroke-width="0.3">TRBV6-9</text>
<line x1="491.13" y1="153.8" x2="491.13" y2="155.4" stroke="#444" stroke-width="0.4"/>
<text transform="translate(492.73,156.9) rotate(-90)" font-size="4.7" text-anchor="end" fill="#222" stroke="#222" stroke-width="0.3">TRBV7-2</text>
<line x1="495.07" y1="153.8" x2="495.07" y2="155.4" stroke="#444" stroke-width="0.4"/>
<text transform="translate(496.67,156.9) rotate(-90)" font-size="4.7" text-anchor="end" fill="#222" stroke="#222" stroke-width="0.3">TRBV7-3</text>
<line x1="499.01" y1="153.8" x2="499.01" y2="155.4" stroke="#444" stroke-width="0.4"/>
<text transform="translate(500.61,156.9) rotate(-90)" font-size="4.7" text-anchor="end" fill="#222" stroke="#222" stroke-width="0.3">TRBV7-4</text>
<line x1="502.95" y1="153.8" x2="502.95" y2="155.4" stroke="#444" stroke-width="0.4"/>
<text transform="translate(504.55,156.9) rotate(-90)" font-size="4.7" text-anchor="end" fill="#222" stroke="#222" stroke-width="0.3">TRBV7-6</text>
<line x1="506.89" y1="153.8" x2="506.89" y2="155.4" stroke="#444" stroke-width="0.4"/>
<text transform="translate(508.49,156.9) rotate(-90)" font-size="4.7" text-anchor="end" fill="#222" stroke="#222" stroke-width="0.3">TRBV7-8</text>
<line x1="510.83" y1="153.8" x2="510.83" y2="155.4" stroke="#444" stroke-width="0.4"/>
<text transform="translate(512.43,156.9) rotate(-90)" font-size="4.7" text-anchor="end" fill="#222" stroke="#222" stroke-width="0.3">TRBV7-9</text>
<text transform="translate(301.6,131.6) rotate(-90)" font-size="4.7" text-anchor="middle" fill="#262626" stroke="#262626" stroke-width="0.04">Frequency</text>
<text x="1" y="208" font-size="11.5" font-weight="bold">B</text>
<rect x="70.2" y="218.85" width="49.30" height="18.4" fill="#fffc10" stroke="#000" stroke-width="1.2"/>
<rect x="70.2" y="248.80" width="101.70" height="18.4" fill="#fffc10" stroke="#000" stroke-width="1.2"/>
<rect x="70.2" y="278.80" width="31.70" height="18.4" fill="#ff280a" stroke="#000" stroke-width="1.2"/>
<rect x="70.2" y="308.75" width="113.80" height="18.4" fill="#ff280a" stroke="#000" stroke-width="1.2"/>
<line x1="70.2" y1="208.6" x2="70.2" y2="337.8" stroke="#000" stroke-width="1.1"/>
<line x1="69.65" y1="337.2" x2="196.8" y2="337.2" stroke="#000" stroke-width="1.2"/>
<line x1="70.20" y1="337.2" x2="70.20" y2="342.6" stroke="#000" stroke-width="1.1"/>
<text x="70.20" y="349.4" font-size="5.4" font-weight="bold" text-anchor="middle">0</text>
<line x1="98.40" y1="337.2" x2="98.40" y2="342.6" stroke="#000" stroke-width="1.1"/>
<text x="98.40" y="349.4" font-size="5.4" font-weight="bold" text-anchor="middle">200</text>
<line x1="126.60" y1="337.2" x2="126.60" y2="342.6" stroke="#000" stroke-width="1.1"/>
<text x="126.60" y="349.4" font-size="5.4" font-weight="bold" text-anchor="middle">400</text>
<line x1="154.80" y1="337.2" x2="154.80" y2="342.6" stroke="#000" stroke-width="1.1"/>
<text x="154.80" y="349.4" font-size="5.4" font-weight="bold" text-anchor="middle">600</text>
<line x1="183.00" y1="337.2" x2="183.00" y2="342.6" stroke="#000" stroke-width="1.1"/>
<text x="183.00" y="349.4" font-size="5.4" font-weight="bold" text-anchor="middle">800</text>
<text x="133.1" y="360.1" font-size="6.8" font-weight="bold" text-anchor="middle">Number of clonotypes</text>
<line x1="65" y1="228.05" x2="70.2" y2="228.05" stroke="#000" stroke-width="1"/>
<text x="63.6" y="229.65" font-size="4.6" font-weight="bold" text-anchor="end" stroke="#000" stroke-width="0.12">Immunoverse</text>
<line x1="65" y1="258.0" x2="70.2" y2="258.0" stroke="#000" stroke-width="1"/>
<text x="63.6" y="259.6" font-size="4.6" font-weight="bold" text-anchor="end" stroke="#000" stroke-width="0.12">FUME-TCRseq</text>
<line x1="65" y1="288.0" x2="70.2" y2="288.0" stroke="#000" stroke-width="1"/>
<text x="63.6" y="289.6" font-size="4.6" font-weight="bold" text-anchor="end" stroke="#000" stroke-width="0.12">Immunoverse</text>
<line x1="65" y1="317.95" x2="70.2" y2="317.95" stroke="#000" stroke-width="1"/>
<text x="63.6" y="319.55" font-size="4.6" font-weight="bold" text-anchor="end" stroke="#000" stroke-width="0.12">FUME-TCRseq</text>
<path d="M29.6 225.29999999999998 H26.6 V262.3 H29.6" fill="none" stroke="#000" stroke-width="2"/>
<path d="M29.6 284.7 H26.6 V322.3 H29.6" fill="none" stroke="#000" stroke-width="2"/>
<text x="11.6" y="242.4" font-size="6" font-weight="bold" text-anchor="middle">PIK3CA</text>
<text x="11.6" y="249.7" font-size="6" font-weight="bold" text-anchor="middle">WT</text>
<text x="11.6" y="302.4" font-size="6" font-weight="bold" text-anchor="middle">PIK3CA</text>
<text x="11.6" y="309.9" font-size="6" font-weight="bold" text-anchor="middle">E545K</text>
<text x="205.4" y="207.5" font-size="11.5" font-weight="bold">C</text>
<line x1="221.7" y1="326.10" x2="296" y2="326.10" stroke="#c6c6c6" stroke-width="0.5" stroke-dasharray="1.5 2.2"/>
<line x1="220.29999999999998" y1="326.10" x2="221.7" y2="326.10" stroke="#333" stroke-width="0.4"/>
<text x="219.3" y="327.50" font-size="4.2" text-anchor="end" fill="#262626" stroke="#262626" stroke-width="0.04">0.0</text>
<line x1="221.7" y1="284.40" x2="296" y2="284.40" stroke="#c6c6c6" stroke-width="0.5" stroke-dasharray="1.5 2.2"/>
<line x1="220.29999999999998" y1="284.40" x2="221.7" y2="284.40" stroke="#333" stroke-width="0.4"/>
<text x="219.3" y="285.80" font-size="4.2" text-anchor="end" fill="#262626" stroke="#262626" stroke-width="0.04">0.1</text>
<line x1="221.7" y1="242.70" x2="296" y2="242.70" stroke="#c6c6c6" stroke-width="0.5" stroke-dasharray="1.5 2.2"/>
<line x1="220.29999999999998" y1="242.70" x2="221.7" y2="242.70" stroke="#333" stroke-width="0.4"/>
<text x="219.3" y="244.10" font-size="4.2" text-anchor="end" fill="#262626" stroke="#262626" stroke-width="0.04">0.2</text>
<path d="M251 217 C261.94 217 264.37 282 275.3 282 L275.3 282 C264.37 282 261.94 224 251 224 Z" fill="#F8766D" fill-opacity="0.5"/>
<path d="M251 224 C261.94 224 264.37 282 275.3 282 L275.3 288 C264.37 288 261.94 234 251 234 Z" fill="#D89000" fill-opacity="0.5"/>
<path d="M251 234 C261.94 234 264.37 288 275.3 288 L275.3 291 C264.37 291 261.94 244.4 251 244.4 Z" fill="#A3A500" fill-opacity="0.5"/>
<path d="M251 244.4 C261.94 244.4 264.37 291 275.3 291 L275.3 295.5 C264.37 295.5 261.94 249.4 251 249.4 Z" fill="#39B600" fill-opacity="0.5"/>
<path d="M251 249.4 C261.94 249.4 264.37 295.5 275.3 295.5 L275.3 299 C264.37 299 261.94 258.4 251 258.4 Z" fill="#00BF7D" fill-opacity="0.5"/>
<path d="M251 258.4 C261.94 258.4 264.37 299 275.3 299 L275.3 302 C264.37 302 261.94 263 251 263 Z" fill="#00BFC4" fill-opacity="0.5"/>
<path d="M251 263 C261.94 263 264.37 302 275.3 302 L275.3 303.5 C264.37 303.5 261.94 268.3 251 268.3 Z" fill="#00B0F6" fill-opacity="0.5"/>
<path d="M251 268.3 C261.94 268.3 264.37 303.5 275.3 303.5 L275.3 314.4 C264.37 314.4 261.94 295.4 251 295.4 Z" fill="#9590FF" fill-opacity="0.5"/>
<path d="M251 295.4 C261.94 295.4 264.37 314.4 275.3 314.4 L275.3 314.4 C264.37 314.4 261.94 301.4 251 301.4 Z" fill="#E76BF3" fill-opacity="0.5"/>
<path d="M251 301.4 C261.94 301.4 264.37 314.4 275.3 314.4 L275.3 326 C264.37 326 261.94 326 251 326 Z" fill="#FF62BC" fill-opacity="0.5"/>
<rect x="237.4" y="217" width="13.60" height="7.00" fill="#F8766D" stroke="#222" stroke-width="0.45"/>
<rect x="237.4" y="224" width="13.60" height="10.00" fill="#D89000" stroke="#222" stroke-width="0.45"/>
<rect x="237.4" y="234" width="13.60" height="10.40" fill="#A3A500" stroke="#222" stroke-width="0.45"/>
<rect x="237.4" y="244.4" width="13.60" height="5.00" fill="#39B600" stroke="#222" stroke-width="0.45"/>
<rect x="237.4" y="249.4" width="13.60" height="9.00" fill="#00BF7D" stroke="#222" stroke-width="0.45"/>
<rect x="237.4" y="258.4" width="13.60" height="4.60" fill="#00BFC4" stroke="#222" stroke-width="0.45"/>
<rect x="237.4" y="263" width="13.60" height="5.30" fill="#00B0F6" stroke="#222" stroke-width="0.45"/>
<rect x="237.4" y="268.3" width="13.60" height="27.10" fill="#9590FF" stroke="#222" stroke-width="0.45"/>
<rect x="237.4" y="295.4" width="13.60" height="6.00" fill="#E76BF3" stroke="#222" stroke-width="0.45"/>
<rect x="237.4" y="301.4" width="13.60" height="24.60" fill="#FF62BC" stroke="#222" stroke-width="0.45"/>
<rect x="275.3" y="282" width="12.70" height="6.00" fill="#D89000" stroke="#222" stroke-width="0.45"/>
<rect x="275.3" y="288" width="12.70" height="3.00" fill="#A3A500" stroke="#222" stroke-width="0.45"/>
<rect x="275.3" y="291" width="12.70" height="4.50" fill="#39B600" stroke="#222" stroke-width="0.45"/>
<rect x="275.3" y="295.5" width="12.70" height="3.50" fill="#00BF7D" stroke="#222" stroke-width="0.45"/>
<rect x="275.3" y="299" width="12.70" height="3.00" fill="#00BFC4" stroke="#222" stroke-width="0.45"/>
<rect x="275.3" y="302" width="12.70" height="1.50" fill="#00B0F6" stroke="#222" stroke-width="0.45"/>
<rect x="275.3" y="303.5" width="12.70" height="10.90" fill="#9590FF" stroke="#222" stroke-width="0.45"/>
<rect x="275.3" y="314.4" width="12.70" height="11.60" fill="#FF62BC" stroke="#222" stroke-width="0.45"/>
<line x1="221.7" y1="219" x2="221.7" y2="331.59999999999997" stroke="#2a2a2a" stroke-width="0.8"/>
<line x1="221.29999999999998" y1="331.2" x2="303.8" y2="331.2" stroke="#2a2a2a" stroke-width="0.8"/>
<line x1="244.2" y1="331.2" x2="244.2" y2="332.7" stroke="#333" stroke-width="0.4"/>
<text x="241.5" y="339.2" font-size="4.8" font-weight="bold" text-anchor="middle">FUME-TCRseq</text>
<line x1="281.65" y1="331.2" x2="281.65" y2="332.7" stroke="#333" stroke-width="0.4"/>
<text x="283.9" y="339.2" font-size="4.8" font-weight="bold" text-anchor="middle">Immunoverse</text>
<text x="262" y="353" font-size="6.4" font-weight="bold" text-anchor="middle">PIK3CA</text>
<text x="262" y="361" font-size="6.4" font-weight="bold" text-anchor="middle">WT</text>
<text transform="translate(210.2,272.4) rotate(-90)" font-size="4.6" text-anchor="middle" fill="#262626" stroke="#262626" stroke-width="0.04">Proportion</text>
<text x="299.0" y="237.5" font-size="4.8" fill="#111" stroke="#111" stroke-width="0.08">Clonotype</text>
<rect x="299.3" y="240.50" width="6.2" height="6.24" fill="#F8766D" stroke="#222" stroke-width="0.5"/>
<text x="308.2" y="244.90" font-size="3.85" fill="#222" stroke="#222" stroke-width="0.05">CASNLGSFDYGYTF</text>
<rect x="299.3" y="247.34" width="6.2" height="6.24" fill="#D89000" stroke="#222" stroke-width="0.5"/>
<text x="308.2" y="251.74" font-size="3.85" fill="#222" stroke="#222" stroke-width="0.05">CASRGNATVEQYF</text>
<rect x="299.3" y="254.18" width="6.2" height="6.24" fill="#A3A500" stroke="#222" stroke-width="0.5"/>
<text x="308.2" y="258.58" font-size="3.85" fill="#222" stroke="#222" stroke-width="0.05">CASSLGAPNMGQYF</text>
<rect x="299.3" y="261.02" width="6.2" height="6.24" fill="#39B600" stroke="#222" stroke-width="0.5"/>
<text x="308.2" y="265.42" font-size="3.85" fill="#222" stroke="#222" stroke-width="0.05">CASSPLGGGRGGYT</text>
<rect x="299.3" y="267.86" width="6.2" height="6.24" fill="#00BF7D" stroke="#222" stroke-width="0.5"/>
<text x="308.2" y="272.26" font-size="3.85" fill="#222" stroke="#222" stroke-width="0.05">CASSPSGGGAGVMDTQYF</text>
<rect x="299.3" y="274.70" width="6.2" height="6.24" fill="#00BFC4" stroke="#222" stroke-width="0.5"/>
<text x="308.2" y="279.10" font-size="3.85" fill="#222" stroke="#222" stroke-width="0.05">CASSRREGVNEKLFF</text>
<rect x="299.3" y="281.54" width="6.2" height="6.24" fill="#00B0F6" stroke="#222" stroke-width="0.5"/>
<text x="308.2" y="285.94" font-size="3.85" fill="#222" stroke="#222" stroke-width="0.05">CASSVSSGELFF</text>
<rect x="299.3" y="288.38" width="6.2" height="6.24" fill="#9590FF" stroke="#222" stroke-width="0.5"/>
<text x="308.2" y="292.78" font-size="3.85" fill="#222" stroke="#222" stroke-width="0.05">CSARDGSESTDTQYF</text>
<rect x="299.3" y="295.22" width="6.2" height="6.24" fill="#E76BF3" stroke="#222" stroke-width="0.5"/>
<text x="308.2" y="299.62" font-size="3.85" fill="#222" stroke="#222" stroke-width="0.05">CSARPGTEAFF</text>
<rect x="299.3" y="302.06" width="6.2" height="6.24" fill="#FF62BC" stroke="#222" stroke-width="0.5"/>
<text x="308.2" y="306.46" font-size="3.85" fill="#222" stroke="#222" stroke-width="0.05">CSARTSGSTDTQYF</text>
<text x="366.8" y="207.5" font-size="11.5" font-weight="bold">D</text>
<line x1="384.7" y1="326.40" x2="458.5" y2="326.40" stroke="#c6c6c6" stroke-width="0.5" stroke-dasharray="1.5 2.2"/>
<line x1="383.3" y1="326.40" x2="384.7" y2="326.40" stroke="#333" stroke-width="0.4"/>
<text x="382.4" y="327.80" font-size="4.2" text-anchor="end" fill="#262626" stroke="#262626" stroke-width="0.04">0.00</text>
<line x1="384.7" y1="304.92" x2="458.5" y2="304.92" stroke="#c6c6c6" stroke-width="0.5" stroke-dasharray="1.5 2.2"/>
<line x1="383.3" y1="304.92" x2="384.7" y2="304.92" stroke="#333" stroke-width="0.4"/>
<text x="382.4" y="306.32" font-size="4.2" text-anchor="end" fill="#262626" stroke="#262626" stroke-width="0.04">0.05</text>
<line x1="384.7" y1="283.45" x2="458.5" y2="283.45" stroke="#c6c6c6" stroke-width="0.5" stroke-dasharray="1.5 2.2"/>
<line x1="383.3" y1="283.45" x2="384.7" y2="283.45" stroke="#333" stroke-width="0.4"/>
<text x="382.4" y="284.85" font-size="4.2" text-anchor="end" fill="#262626" stroke="#262626" stroke-width="0.04">0.10</text>
<line x1="384.7" y1="261.97" x2="458.5" y2="261.97" stroke="#c6c6c6" stroke-width="0.5" stroke-dasharray="1.5 2.2"/>
<line x1="383.3" y1="261.97" x2="384.7" y2="261.97" stroke="#333" stroke-width="0.4"/>
<text x="382.4" y="263.37" font-size="4.2" text-anchor="end" fill="#262626" stroke="#262626" stroke-width="0.04">0.15</text>
<line x1="384.7" y1="240.50" x2="458.5" y2="240.50" stroke="#c6c6c6" stroke-width="0.5" stroke-dasharray="1.5 2.2"/>
<line x1="383.3" y1="240.50" x2="384.7" y2="240.50" stroke="#333" stroke-width="0.4"/>
<text x="382.4" y="241.90" font-size="4.2" text-anchor="end" fill="#262626" stroke="#262626" stroke-width="0.04">0.20</text>
<line x1="384.7" y1="219.02" x2="458.5" y2="219.02" stroke="#c6c6c6" stroke-width="0.5" stroke-dasharray="1.5 2.2"/>
<line x1="383.3" y1="219.02" x2="384.7" y2="219.02" stroke="#333" stroke-width="0.4"/>
<text x="382.4" y="220.42" font-size="4.2" text-anchor="end" fill="#262626" stroke="#262626" stroke-width="0.04">0.25</text>
<path d="M413 220.4 C423.80 220.4 426.20 258.9 437 258.9 L437 258.9 C426.20 258.9 423.80 226.1 413 226.1 Z" fill="#F8766D" fill-opacity="0.5"/>
<path d="M413 226.1 C423.80 226.1 426.20 258.9 437 258.9 L437 258.9 C426.20 258.9 423.80 231.3 413 231.3 Z" fill="#D89000" fill-opacity="0.5"/>
<path d="M413 231.3 C423.80 231.3 426.20 258.9 437 258.9 L437 258.9 C426.20 258.9 423.80 235.7 413 235.7 Z" fill="#A3A500" fill-opacity="0.5"/>
<path d="M413 235.7 C423.80 235.7 426.20 258.9 437 258.9 L437 288.4 C426.20 288.4 423.80 255.7 413 255.7 Z" fill="#39B600" fill-opacity="0.5"/>
<path d="M413 255.7 C423.80 255.7 426.20 288.4 437 288.4 L437 288.4 C426.20 288.4 423.80 263.4 413 263.4 Z" fill="#00BF7D" fill-opacity="0.5"/>
<path d="M413 263.4 C423.80 263.4 426.20 288.4 437 288.4 L437 317.6 C426.20 317.6 423.80 281.5 413 281.5 Z" fill="#00BFC4" fill-opacity="0.5"/>
<path d="M413 281.5 C423.80 281.5 426.20 317.6 437 317.6 L437 318.8 C426.20 318.8 423.80 286.6 413 286.6 Z" fill="#00B0F6" fill-opacity="0.5"/>
<path d="M413 286.6 C423.80 286.6 426.20 318.8 437 318.8 L437 318.8 C426.20 318.8 423.80 291.3 413 291.3 Z" fill="#9590FF" fill-opacity="0.5"/>
<path d="M413 291.3 C423.80 291.3 426.20 318.8 437 318.8 L437 324.5 C426.20 324.5 423.80 297.4 413 297.4 Z" fill="#E76BF3" fill-opacity="0.5"/>
<path d="M413 297.4 C423.80 297.4 426.20 324.5 437 324.5 L437 326.3 C426.20 326.3 423.80 326.3 413 326.3 Z" fill="#FF62BC" fill-opacity="0.5"/>
<rect x="400.4" y="220.4" width="12.60" height="5.70" fill="#F8766D" stroke="#222" stroke-width="0.45"/>
<rect x="400.4" y="226.1" width="12.60" height="5.20" fill="#D89000" stroke="#222" stroke-width="0.45"/>
<rect x="400.4" y="231.3" width="12.60" height="4.40" fill="#A3A500" stroke="#222" stroke-width="0.45"/>
<rect x="400.4" y="235.7" width="12.60" height="20.00" fill="#39B600" stroke="#222" stroke-width="0.45"/>
<rect x="400.4" y="255.7" width="12.60" height="7.70" fill="#00BF7D" stroke="#222" stroke-width="0.45"/>
<rect x="400.4" y="263.4" width="12.60" height="18.10" fill="#00BFC4" stroke="#222" stroke-width="0.45"/>
<rect x="400.4" y="281.5" width="12.60" height="5.10" fill="#00B0F6" stroke="#222" stroke-width="0.45"/>
<rect x="400.4" y="286.6" width="12.60" height="4.70" fill="#9590FF" stroke="#222" stroke-width="0.45"/>
<rect x="400.4" y="291.3" width="12.60" height="6.10" fill="#E76BF3" stroke="#222" stroke-width="0.45"/>
<rect x="400.4" y="297.4" width="12.60" height="28.90" fill="#FF62BC" stroke="#222" stroke-width="0.45"/>
<rect x="437" y="258.9" width="12.40" height="29.50" fill="#39B600" stroke="#222" stroke-width="0.45"/>
<rect x="437" y="288.4" width="12.40" height="29.20" fill="#00BFC4" stroke="#222" stroke-width="0.45"/>
<rect x="437" y="317.6" width="12.40" height="1.20" fill="#00B0F6" stroke="#222" stroke-width="0.45"/>
<rect x="437" y="318.8" width="12.40" height="5.70" fill="#E76BF3" stroke="#222" stroke-width="0.45"/>
<rect x="437" y="324.5" width="12.40" height="1.80" fill="#FF62BC" stroke="#222" stroke-width="0.45"/>
<line x1="384.7" y1="215" x2="384.7" y2="331.79999999999995" stroke="#2a2a2a" stroke-width="0.8"/>
<line x1="384.3" y1="331.4" x2="465" y2="331.4" stroke="#2a2a2a" stroke-width="0.8"/>
<line x1="406.7" y1="331.4" x2="406.7" y2="332.9" stroke="#333" stroke-width="0.4"/>
<text x="405" y="339.4" font-size="4.8" font-weight="bold" text-anchor="middle">FUME-TCRseq</text>
<line x1="443.2" y1="331.4" x2="443.2" y2="332.9" stroke="#333" stroke-width="0.4"/>
<text x="448.5" y="339.4" font-size="4.8" font-weight="bold" text-anchor="middle">Immunoverse</text>
<text x="431.2" y="353" font-size="6.4" font-weight="bold" text-anchor="middle">PIK3CA</text>
<text x="431.2" y="361" font-size="6.4" font-weight="bold" text-anchor="middle">E545K</text>
<text transform="translate(370.9,273) rotate(-90)" font-size="4.6" text-anchor="middle" fill="#262626" stroke="#262626" stroke-width="0.04">Proportion</text>
<text x="461.3" y="239" font-size="4.8" fill="#111" stroke="#111" stroke-width="0.08">Clonotype</text>
<rect x="461.6" y="242.30" width="6.2" height="6.24" fill="#F8766D" stroke="#222" stroke-width="0.5"/>
<text x="470.5" y="246.70" font-size="3.85" fill="#222" stroke="#222" stroke-width="0.05">CASSLEVFYTF</text>
<rect x="461.6" y="249.14" width="6.2" height="6.24" fill="#D89000" stroke="#222" stroke-width="0.5"/>
<text x="470.5" y="253.54" font-size="3.85" fill="#222" stroke="#222" stroke-width="0.05">CASSLGAPNMGQYF</text>
<rect x="461.6" y="255.98" width="6.2" height="6.24" fill="#A3A500" stroke="#222" stroke-width="0.5"/>
<text x="470.5" y="260.38" font-size="3.85" fill="#222" stroke="#222" stroke-width="0.05">CASSPLGGGRGGYF</text>
<rect x="461.6" y="262.82" width="6.2" height="6.24" fill="#39B600" stroke="#222" stroke-width="0.5"/>
<text x="470.5" y="267.22" font-size="3.85" fill="#222" stroke="#222" stroke-width="0.05">CASSPSSGGAGVMDTQYF</text>
<rect x="461.6" y="269.66" width="6.2" height="6.24" fill="#00BF7D" stroke="#222" stroke-width="0.5"/>
<text x="470.5" y="274.06" font-size="3.85" fill="#222" stroke="#222" stroke-width="0.05">CASSRSSGELFF</text>
<rect x="461.6" y="276.50" width="6.2" height="6.24" fill="#00BFC4" stroke="#222" stroke-width="0.5"/>
<text x="470.5" y="280.90" font-size="3.85" fill="#222" stroke="#222" stroke-width="0.05">CASSYGNPNTEAFF</text>
<rect x="461.6" y="283.34" width="6.2" height="6.24" fill="#00B0F6" stroke="#222" stroke-width="0.5"/>
<text x="470.5" y="287.74" font-size="3.85" fill="#222" stroke="#222" stroke-width="0.05">CSARDGSDSTDTQYF</text>
<rect x="461.6" y="290.18" width="6.2" height="6.24" fill="#9590FF" stroke="#222" stroke-width="0.5"/>
<text x="470.5" y="294.58" font-size="3.85" fill="#222" stroke="#222" stroke-width="0.05">CSARDSSGRGTGELFF</text>
<rect x="461.6" y="297.02" width="6.2" height="6.24" fill="#E76BF3" stroke="#222" stroke-width="0.5"/>
<text x="470.5" y="301.42" font-size="3.85" fill="#222" stroke="#222" stroke-width="0.05">CSARGDRGHTGELFF</text>
<rect x="461.6" y="303.86" width="6.2" height="6.24" fill="#FF62BC" stroke="#222" stroke-width="0.5"/>
<text x="470.5" y="308.26" font-size="3.85" fill="#222" stroke="#222" stroke-width="0.05">CSARTSGSTDTQYF</text>
</g>
</svg>
</body></html>
